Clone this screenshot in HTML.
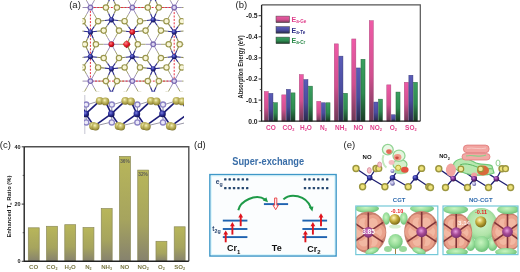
<!DOCTYPE html>
<html><head><meta charset="utf-8"><title>Figure</title>
<style>html,body{margin:0;padding:0;background:#fff;width:520px;height:272px;overflow:hidden}svg{display:block;filter:blur(0.3px)}</style>
</head><body><svg width="520" height="272" viewBox="0 0 520 272">
<defs>
 <linearGradient id="gPink" x1="0" y1="0" x2="0" y2="1">
  <stop offset="0" stop-color="#ee5aa6"/><stop offset="0.55" stop-color="#d0508f"/><stop offset="1" stop-color="#6a3a55"/>
 </linearGradient>
 <linearGradient id="gBlue" x1="0" y1="0" x2="0" y2="1">
  <stop offset="0" stop-color="#5a5cb8"/><stop offset="0.55" stop-color="#4a4c9e"/><stop offset="1" stop-color="#2a2a48"/>
 </linearGradient>
 <linearGradient id="gGreen" x1="0" y1="0" x2="0" y2="1">
  <stop offset="0" stop-color="#3aa060"/><stop offset="0.55" stop-color="#2e8a50"/><stop offset="1" stop-color="#1a3a25"/>
 </linearGradient>
 <linearGradient id="gOlive" x1="0" y1="0" x2="0" y2="1">
  <stop offset="0" stop-color="#b8b65a"/><stop offset="0.6" stop-color="#a6a45e"/><stop offset="1" stop-color="#86826e"/>
 </linearGradient>
 <radialGradient id="gTe" cx="0.45" cy="0.4" r="0.65" fx="0.4" fy="0.35">
  <stop offset="0" stop-color="#f6f2c0"/><stop offset="0.35" stop-color="#ccc470"/><stop offset="0.75" stop-color="#a09440"/><stop offset="1" stop-color="#6a6222"/>
 </radialGradient>
 <radialGradient id="gGe" cx="0.4" cy="0.35" r="0.7">
  <stop offset="0" stop-color="#f0f0ff"/><stop offset="0.5" stop-color="#9c98d0"/><stop offset="1" stop-color="#50508a"/>
 </radialGradient>
 <radialGradient id="gCr" cx="0.4" cy="0.35" r="0.7">
  <stop offset="0" stop-color="#7a80e0"/><stop offset="0.5" stop-color="#2a2c98"/><stop offset="1" stop-color="#101048"/>
 </radialGradient>
 <radialGradient id="gCrP" cx="0.4" cy="0.35" r="0.7">
  <stop offset="0" stop-color="#d080d8"/><stop offset="0.5" stop-color="#742a8c"/><stop offset="1" stop-color="#2a1040"/>
 </radialGradient>
 <radialGradient id="gRed" cx="0.4" cy="0.35" r="0.7">
  <stop offset="0" stop-color="#ff8080"/><stop offset="0.5" stop-color="#e01828"/><stop offset="1" stop-color="#901010"/>
 </radialGradient>
 <radialGradient id="gFlower" cx="0.5" cy="0.5" r="0.5">
  <stop offset="0" stop-color="#e89070"/><stop offset="0.7" stop-color="#eba080"/><stop offset="1" stop-color="#d08060"/>
 </radialGradient>
 <radialGradient id="gGreenBlob" cx="0.45" cy="0.4" r="0.6">
  <stop offset="0" stop-color="#c8f4c0"/><stop offset="0.6" stop-color="#96dc98"/><stop offset="1" stop-color="#6cc078"/>
 </radialGradient>
 <radialGradient id="gGreenLight" cx="0.5" cy="0.45" r="0.55">
  <stop offset="0" stop-color="#d4f4cc"/><stop offset="0.7" stop-color="#b0e4a8"/><stop offset="1" stop-color="#84cc88"/>
 </radialGradient>
 <radialGradient id="gGold" cx="0.4" cy="0.35" r="0.7">
  <stop offset="0" stop-color="#fff8c0"/><stop offset="0.45" stop-color="#c8b040"/><stop offset="1" stop-color="#706010"/>
 </radialGradient>
 <radialGradient id="gMag" cx="0.45" cy="0.4" r="0.6">
  <stop offset="0" stop-color="#e8a0e0"/><stop offset="0.5" stop-color="#a84c98"/><stop offset="1" stop-color="#7a3070"/>
 </radialGradient>
 <clipPath id="clipTop"><rect x="82.5" y="0" width="101" height="91.5"/></clipPath>
 <clipPath id="clipSide"><rect x="84" y="94" width="100" height="42"/></clipPath>
 <clipPath id="clipE1"><rect x="355.8" y="206" width="82" height="48.6"/></clipPath>
 <clipPath id="clipE2"><rect x="443" y="206" width="75" height="48.6"/></clipPath>
</defs>
<text x="69.2" y="7.7" font-size="9.5" font-family="Liberation Sans, Arial, sans-serif" fill="#222">(a)</text><g clip-path="url(#clipTop)"><line x1="69.5" y1="44.3" x2="73.3" y2="37.5" stroke="#9a8cb8" stroke-width="1.0"/><line x1="73.3" y1="37.5" x2="77.1" y2="30.6" stroke="#a0a070" stroke-width="1.0"/><line x1="69.5" y1="44.3" x2="73.3" y2="51.1" stroke="#9a8cb8" stroke-width="1.0"/><line x1="73.3" y1="51.1" x2="77.1" y2="58.0" stroke="#a0a070" stroke-width="1.0"/><line x1="69.5" y1="44.3" x2="77.2" y2="44.3" stroke="#9a8cb8" stroke-width="1.0"/><line x1="77.2" y1="44.3" x2="84.9" y2="44.3" stroke="#a0a070" stroke-width="1.0"/><line x1="90.4" y1="81.1" x2="86.6" y2="87.9" stroke="#9a8cb8" stroke-width="1.0"/><line x1="86.6" y1="87.9" x2="82.7" y2="94.8" stroke="#a0a070" stroke-width="1.0"/><line x1="90.4" y1="81.1" x2="94.2" y2="74.3" stroke="#9a8cb8" stroke-width="1.0"/><line x1="94.2" y1="74.3" x2="98.1" y2="67.4" stroke="#a0a070" stroke-width="1.0"/><line x1="90.4" y1="81.1" x2="82.7" y2="81.1" stroke="#9a8cb8" stroke-width="1.0"/><line x1="82.7" y1="81.1" x2="75.0" y2="81.1" stroke="#a0a070" stroke-width="1.0"/><line x1="90.4" y1="81.1" x2="86.6" y2="74.3" stroke="#9a8cb8" stroke-width="1.0"/><line x1="86.6" y1="74.3" x2="82.7" y2="67.4" stroke="#a0a070" stroke-width="1.0"/><line x1="90.4" y1="81.1" x2="94.2" y2="87.9" stroke="#9a8cb8" stroke-width="1.0"/><line x1="94.2" y1="87.9" x2="98.1" y2="94.8" stroke="#a0a070" stroke-width="1.0"/><line x1="90.4" y1="81.1" x2="98.1" y2="81.1" stroke="#9a8cb8" stroke-width="1.0"/><line x1="98.1" y1="81.1" x2="105.9" y2="81.1" stroke="#a0a070" stroke-width="1.0"/><line x1="90.4" y1="7.5" x2="86.6" y2="14.3" stroke="#9a8cb8" stroke-width="1.0"/><line x1="86.6" y1="14.3" x2="82.7" y2="21.2" stroke="#a0a070" stroke-width="1.0"/><line x1="90.4" y1="7.5" x2="94.2" y2="0.7" stroke="#9a8cb8" stroke-width="1.0"/><line x1="94.2" y1="0.7" x2="98.1" y2="-6.2" stroke="#a0a070" stroke-width="1.0"/><line x1="90.4" y1="7.5" x2="82.7" y2="7.5" stroke="#9a8cb8" stroke-width="1.0"/><line x1="82.7" y1="7.5" x2="75.0" y2="7.5" stroke="#a0a070" stroke-width="1.0"/><line x1="90.4" y1="7.5" x2="86.6" y2="0.7" stroke="#9a8cb8" stroke-width="1.0"/><line x1="86.6" y1="0.7" x2="82.7" y2="-6.2" stroke="#a0a070" stroke-width="1.0"/><line x1="90.4" y1="7.5" x2="94.2" y2="14.3" stroke="#9a8cb8" stroke-width="1.0"/><line x1="94.2" y1="14.3" x2="98.1" y2="21.2" stroke="#a0a070" stroke-width="1.0"/><line x1="90.4" y1="7.5" x2="98.1" y2="7.5" stroke="#9a8cb8" stroke-width="1.0"/><line x1="98.1" y1="7.5" x2="105.9" y2="7.5" stroke="#a0a070" stroke-width="1.0"/><line x1="111.4" y1="44.3" x2="107.5" y2="51.1" stroke="#9a8cb8" stroke-width="1.0"/><line x1="107.5" y1="51.1" x2="103.7" y2="58.0" stroke="#a0a070" stroke-width="1.0"/><line x1="111.4" y1="44.3" x2="115.2" y2="37.5" stroke="#9a8cb8" stroke-width="1.0"/><line x1="115.2" y1="37.5" x2="119.0" y2="30.6" stroke="#a0a070" stroke-width="1.0"/><line x1="111.4" y1="44.3" x2="103.6" y2="44.3" stroke="#9a8cb8" stroke-width="1.0"/><line x1="103.6" y1="44.3" x2="95.9" y2="44.3" stroke="#a0a070" stroke-width="1.0"/><line x1="111.4" y1="44.3" x2="107.5" y2="37.5" stroke="#9a8cb8" stroke-width="1.0"/><line x1="107.5" y1="37.5" x2="103.7" y2="30.6" stroke="#a0a070" stroke-width="1.0"/><line x1="111.4" y1="44.3" x2="115.2" y2="51.1" stroke="#9a8cb8" stroke-width="1.0"/><line x1="115.2" y1="51.1" x2="119.0" y2="58.0" stroke="#a0a070" stroke-width="1.0"/><line x1="111.4" y1="44.3" x2="119.1" y2="44.3" stroke="#9a8cb8" stroke-width="1.0"/><line x1="119.1" y1="44.3" x2="126.8" y2="44.3" stroke="#a0a070" stroke-width="1.0"/><line x1="132.3" y1="81.1" x2="128.5" y2="87.9" stroke="#9a8cb8" stroke-width="1.0"/><line x1="128.5" y1="87.9" x2="124.6" y2="94.8" stroke="#a0a070" stroke-width="1.0"/><line x1="132.3" y1="81.1" x2="136.1" y2="74.3" stroke="#9a8cb8" stroke-width="1.0"/><line x1="136.1" y1="74.3" x2="140.0" y2="67.4" stroke="#a0a070" stroke-width="1.0"/><line x1="132.3" y1="81.1" x2="124.6" y2="81.1" stroke="#9a8cb8" stroke-width="1.0"/><line x1="124.6" y1="81.1" x2="116.9" y2="81.1" stroke="#a0a070" stroke-width="1.0"/><line x1="132.3" y1="81.1" x2="128.5" y2="74.3" stroke="#9a8cb8" stroke-width="1.0"/><line x1="128.5" y1="74.3" x2="124.6" y2="67.4" stroke="#a0a070" stroke-width="1.0"/><line x1="132.3" y1="81.1" x2="136.1" y2="87.9" stroke="#9a8cb8" stroke-width="1.0"/><line x1="136.1" y1="87.9" x2="140.0" y2="94.8" stroke="#a0a070" stroke-width="1.0"/><line x1="132.3" y1="81.1" x2="140.0" y2="81.1" stroke="#9a8cb8" stroke-width="1.0"/><line x1="140.0" y1="81.1" x2="147.8" y2="81.1" stroke="#a0a070" stroke-width="1.0"/><line x1="132.3" y1="7.5" x2="128.5" y2="14.3" stroke="#9a8cb8" stroke-width="1.0"/><line x1="128.5" y1="14.3" x2="124.6" y2="21.2" stroke="#a0a070" stroke-width="1.0"/><line x1="132.3" y1="7.5" x2="136.1" y2="0.7" stroke="#9a8cb8" stroke-width="1.0"/><line x1="136.1" y1="0.7" x2="140.0" y2="-6.2" stroke="#a0a070" stroke-width="1.0"/><line x1="132.3" y1="7.5" x2="124.6" y2="7.5" stroke="#9a8cb8" stroke-width="1.0"/><line x1="124.6" y1="7.5" x2="116.9" y2="7.5" stroke="#a0a070" stroke-width="1.0"/><line x1="132.3" y1="7.5" x2="128.5" y2="0.7" stroke="#9a8cb8" stroke-width="1.0"/><line x1="128.5" y1="0.7" x2="124.6" y2="-6.2" stroke="#a0a070" stroke-width="1.0"/><line x1="132.3" y1="7.5" x2="136.1" y2="14.3" stroke="#9a8cb8" stroke-width="1.0"/><line x1="136.1" y1="14.3" x2="140.0" y2="21.2" stroke="#a0a070" stroke-width="1.0"/><line x1="132.3" y1="7.5" x2="140.0" y2="7.5" stroke="#9a8cb8" stroke-width="1.0"/><line x1="140.0" y1="7.5" x2="147.8" y2="7.5" stroke="#a0a070" stroke-width="1.0"/><line x1="153.2" y1="44.3" x2="149.4" y2="51.1" stroke="#9a8cb8" stroke-width="1.0"/><line x1="149.4" y1="51.1" x2="145.6" y2="58.0" stroke="#a0a070" stroke-width="1.0"/><line x1="153.2" y1="44.3" x2="157.1" y2="37.5" stroke="#9a8cb8" stroke-width="1.0"/><line x1="157.1" y1="37.5" x2="160.9" y2="30.6" stroke="#a0a070" stroke-width="1.0"/><line x1="153.2" y1="44.3" x2="145.5" y2="44.3" stroke="#9a8cb8" stroke-width="1.0"/><line x1="145.5" y1="44.3" x2="137.8" y2="44.3" stroke="#a0a070" stroke-width="1.0"/><line x1="153.2" y1="44.3" x2="149.4" y2="37.5" stroke="#9a8cb8" stroke-width="1.0"/><line x1="149.4" y1="37.5" x2="145.6" y2="30.6" stroke="#a0a070" stroke-width="1.0"/><line x1="153.2" y1="44.3" x2="157.1" y2="51.1" stroke="#9a8cb8" stroke-width="1.0"/><line x1="157.1" y1="51.1" x2="160.9" y2="58.0" stroke="#a0a070" stroke-width="1.0"/><line x1="153.2" y1="44.3" x2="161.0" y2="44.3" stroke="#9a8cb8" stroke-width="1.0"/><line x1="161.0" y1="44.3" x2="168.7" y2="44.3" stroke="#a0a070" stroke-width="1.0"/><line x1="174.2" y1="81.1" x2="170.4" y2="87.9" stroke="#9a8cb8" stroke-width="1.0"/><line x1="170.4" y1="87.9" x2="166.5" y2="94.8" stroke="#a0a070" stroke-width="1.0"/><line x1="174.2" y1="81.1" x2="178.0" y2="74.3" stroke="#9a8cb8" stroke-width="1.0"/><line x1="178.0" y1="74.3" x2="181.9" y2="67.4" stroke="#a0a070" stroke-width="1.0"/><line x1="174.2" y1="81.1" x2="166.5" y2="81.1" stroke="#9a8cb8" stroke-width="1.0"/><line x1="166.5" y1="81.1" x2="158.8" y2="81.1" stroke="#a0a070" stroke-width="1.0"/><line x1="174.2" y1="81.1" x2="170.4" y2="74.3" stroke="#9a8cb8" stroke-width="1.0"/><line x1="170.4" y1="74.3" x2="166.5" y2="67.4" stroke="#a0a070" stroke-width="1.0"/><line x1="174.2" y1="81.1" x2="178.0" y2="87.9" stroke="#9a8cb8" stroke-width="1.0"/><line x1="178.0" y1="87.9" x2="181.9" y2="94.8" stroke="#a0a070" stroke-width="1.0"/><line x1="174.2" y1="81.1" x2="181.9" y2="81.1" stroke="#9a8cb8" stroke-width="1.0"/><line x1="181.9" y1="81.1" x2="189.6" y2="81.1" stroke="#a0a070" stroke-width="1.0"/><line x1="174.2" y1="7.5" x2="170.4" y2="14.3" stroke="#9a8cb8" stroke-width="1.0"/><line x1="170.4" y1="14.3" x2="166.5" y2="21.2" stroke="#a0a070" stroke-width="1.0"/><line x1="174.2" y1="7.5" x2="178.0" y2="0.7" stroke="#9a8cb8" stroke-width="1.0"/><line x1="178.0" y1="0.7" x2="181.9" y2="-6.2" stroke="#a0a070" stroke-width="1.0"/><line x1="174.2" y1="7.5" x2="166.5" y2="7.5" stroke="#9a8cb8" stroke-width="1.0"/><line x1="166.5" y1="7.5" x2="158.8" y2="7.5" stroke="#a0a070" stroke-width="1.0"/><line x1="174.2" y1="7.5" x2="170.4" y2="0.7" stroke="#9a8cb8" stroke-width="1.0"/><line x1="170.4" y1="0.7" x2="166.5" y2="-6.2" stroke="#a0a070" stroke-width="1.0"/><line x1="174.2" y1="7.5" x2="181.9" y2="7.5" stroke="#9a8cb8" stroke-width="1.0"/><line x1="181.9" y1="7.5" x2="189.6" y2="7.5" stroke="#a0a070" stroke-width="1.0"/><line x1="174.2" y1="7.5" x2="178.0" y2="14.3" stroke="#9a8cb8" stroke-width="1.0"/><line x1="178.0" y1="14.3" x2="181.9" y2="21.2" stroke="#a0a070" stroke-width="1.0"/><line x1="195.1" y1="44.3" x2="191.3" y2="51.1" stroke="#9a8cb8" stroke-width="1.0"/><line x1="191.3" y1="51.1" x2="187.5" y2="58.0" stroke="#a0a070" stroke-width="1.0"/><line x1="195.1" y1="44.3" x2="187.4" y2="44.3" stroke="#9a8cb8" stroke-width="1.0"/><line x1="187.4" y1="44.3" x2="179.7" y2="44.3" stroke="#a0a070" stroke-width="1.0"/><line x1="195.1" y1="44.3" x2="191.3" y2="37.5" stroke="#9a8cb8" stroke-width="1.0"/><line x1="191.3" y1="37.5" x2="187.5" y2="30.6" stroke="#a0a070" stroke-width="1.0"/><line x1="69.5" y1="93.4" x2="76.1" y2="94.1" stroke="#2a2a8a" stroke-width="1.1"/><line x1="76.1" y1="94.1" x2="82.7" y2="94.8" stroke="#8a8a58" stroke-width="1.1"/><line x1="90.4" y1="105.6" x2="86.6" y2="100.2" stroke="#2a2a8a" stroke-width="1.1"/><line x1="86.6" y1="100.2" x2="82.7" y2="94.8" stroke="#8a8a58" stroke-width="1.1"/><line x1="69.5" y1="19.8" x2="73.3" y2="25.2" stroke="#2a2a8a" stroke-width="1.1"/><line x1="73.3" y1="25.2" x2="77.1" y2="30.6" stroke="#8a8a58" stroke-width="1.1"/><line x1="90.4" y1="32.0" x2="83.8" y2="31.3" stroke="#2a2a8a" stroke-width="1.1"/><line x1="83.8" y1="31.3" x2="77.1" y2="30.6" stroke="#8a8a58" stroke-width="1.1"/><line x1="69.5" y1="19.8" x2="76.1" y2="20.5" stroke="#2a2a8a" stroke-width="1.1"/><line x1="76.1" y1="20.5" x2="82.7" y2="21.2" stroke="#8a8a58" stroke-width="1.1"/><line x1="90.4" y1="32.0" x2="86.6" y2="26.6" stroke="#2a2a8a" stroke-width="1.1"/><line x1="86.6" y1="26.6" x2="82.7" y2="21.2" stroke="#8a8a58" stroke-width="1.1"/><line x1="90.4" y1="56.6" x2="94.2" y2="62.0" stroke="#2a2a8a" stroke-width="1.1"/><line x1="94.2" y1="62.0" x2="98.1" y2="67.4" stroke="#8a8a58" stroke-width="1.1"/><line x1="111.4" y1="68.8" x2="104.7" y2="68.1" stroke="#2a2a8a" stroke-width="1.1"/><line x1="104.7" y1="68.1" x2="98.1" y2="67.4" stroke="#8a8a58" stroke-width="1.1"/><line x1="90.4" y1="56.6" x2="97.0" y2="57.3" stroke="#2a2a8a" stroke-width="1.1"/><line x1="97.0" y1="57.3" x2="103.7" y2="58.0" stroke="#8a8a58" stroke-width="1.1"/><line x1="111.4" y1="68.8" x2="107.5" y2="63.4" stroke="#2a2a8a" stroke-width="1.1"/><line x1="107.5" y1="63.4" x2="103.7" y2="58.0" stroke="#8a8a58" stroke-width="1.1"/><line x1="69.5" y1="68.8" x2="72.2" y2="75.0" stroke="#2a2a8a" stroke-width="1.1"/><line x1="72.2" y1="75.0" x2="75.0" y2="81.1" stroke="#8a8a58" stroke-width="1.1"/><line x1="69.5" y1="93.4" x2="72.2" y2="87.2" stroke="#2a2a8a" stroke-width="1.1"/><line x1="72.2" y1="87.2" x2="75.0" y2="81.1" stroke="#8a8a58" stroke-width="1.1"/><line x1="69.5" y1="68.8" x2="76.1" y2="68.1" stroke="#2a2a8a" stroke-width="1.1"/><line x1="76.1" y1="68.1" x2="82.7" y2="67.4" stroke="#8a8a58" stroke-width="1.1"/><line x1="90.4" y1="56.6" x2="86.6" y2="62.0" stroke="#2a2a8a" stroke-width="1.1"/><line x1="86.6" y1="62.0" x2="82.7" y2="67.4" stroke="#8a8a58" stroke-width="1.1"/><line x1="69.5" y1="68.8" x2="73.3" y2="63.4" stroke="#2a2a8a" stroke-width="1.1"/><line x1="73.3" y1="63.4" x2="77.1" y2="58.0" stroke="#8a8a58" stroke-width="1.1"/><line x1="90.4" y1="56.6" x2="83.8" y2="57.3" stroke="#2a2a8a" stroke-width="1.1"/><line x1="83.8" y1="57.3" x2="77.1" y2="58.0" stroke="#8a8a58" stroke-width="1.1"/><line x1="111.4" y1="93.4" x2="115.2" y2="98.8" stroke="#2a2a8a" stroke-width="1.1"/><line x1="115.2" y1="98.8" x2="119.0" y2="104.2" stroke="#8a8a58" stroke-width="1.1"/><line x1="111.4" y1="93.4" x2="118.0" y2="94.1" stroke="#2a2a8a" stroke-width="1.1"/><line x1="118.0" y1="94.1" x2="124.6" y2="94.8" stroke="#8a8a58" stroke-width="1.1"/><line x1="132.3" y1="105.6" x2="128.5" y2="100.2" stroke="#2a2a8a" stroke-width="1.1"/><line x1="128.5" y1="100.2" x2="124.6" y2="94.8" stroke="#8a8a58" stroke-width="1.1"/><line x1="111.4" y1="93.4" x2="107.5" y2="98.8" stroke="#2a2a8a" stroke-width="1.1"/><line x1="107.5" y1="98.8" x2="103.7" y2="104.2" stroke="#8a8a58" stroke-width="1.1"/><line x1="90.4" y1="105.6" x2="94.2" y2="100.2" stroke="#2a2a8a" stroke-width="1.1"/><line x1="94.2" y1="100.2" x2="98.1" y2="94.8" stroke="#8a8a58" stroke-width="1.1"/><line x1="111.4" y1="93.4" x2="104.7" y2="94.1" stroke="#2a2a8a" stroke-width="1.1"/><line x1="104.7" y1="94.1" x2="98.1" y2="94.8" stroke="#8a8a58" stroke-width="1.1"/><line x1="90.4" y1="-17.0" x2="94.2" y2="-11.6" stroke="#2a2a8a" stroke-width="1.1"/><line x1="94.2" y1="-11.6" x2="98.1" y2="-6.2" stroke="#8a8a58" stroke-width="1.1"/><line x1="111.4" y1="-4.8" x2="104.7" y2="-5.5" stroke="#2a2a8a" stroke-width="1.1"/><line x1="104.7" y1="-5.5" x2="98.1" y2="-6.2" stroke="#8a8a58" stroke-width="1.1"/><line x1="111.4" y1="-4.8" x2="107.5" y2="-10.2" stroke="#2a2a8a" stroke-width="1.1"/><line x1="107.5" y1="-10.2" x2="103.7" y2="-15.6" stroke="#8a8a58" stroke-width="1.1"/><line x1="69.5" y1="-4.8" x2="72.2" y2="1.4" stroke="#2a2a8a" stroke-width="1.1"/><line x1="72.2" y1="1.4" x2="75.0" y2="7.5" stroke="#8a8a58" stroke-width="1.1"/><line x1="69.5" y1="19.8" x2="72.2" y2="13.6" stroke="#2a2a8a" stroke-width="1.1"/><line x1="72.2" y1="13.6" x2="75.0" y2="7.5" stroke="#8a8a58" stroke-width="1.1"/><line x1="69.5" y1="-4.8" x2="76.1" y2="-5.5" stroke="#2a2a8a" stroke-width="1.1"/><line x1="76.1" y1="-5.5" x2="82.7" y2="-6.2" stroke="#8a8a58" stroke-width="1.1"/><line x1="90.4" y1="-17.0" x2="86.6" y2="-11.6" stroke="#2a2a8a" stroke-width="1.1"/><line x1="86.6" y1="-11.6" x2="82.7" y2="-6.2" stroke="#8a8a58" stroke-width="1.1"/><line x1="111.4" y1="19.8" x2="115.2" y2="25.2" stroke="#2a2a8a" stroke-width="1.1"/><line x1="115.2" y1="25.2" x2="119.0" y2="30.6" stroke="#8a8a58" stroke-width="1.1"/><line x1="132.3" y1="32.0" x2="125.7" y2="31.3" stroke="#2a2a8a" stroke-width="1.1"/><line x1="125.7" y1="31.3" x2="119.0" y2="30.6" stroke="#8a8a58" stroke-width="1.1"/><line x1="111.4" y1="19.8" x2="118.0" y2="20.5" stroke="#2a2a8a" stroke-width="1.1"/><line x1="118.0" y1="20.5" x2="124.6" y2="21.2" stroke="#8a8a58" stroke-width="1.1"/><line x1="132.3" y1="32.0" x2="128.5" y2="26.6" stroke="#2a2a8a" stroke-width="1.1"/><line x1="128.5" y1="26.6" x2="124.6" y2="21.2" stroke="#8a8a58" stroke-width="1.1"/><line x1="90.4" y1="32.0" x2="87.7" y2="38.2" stroke="#2a2a8a" stroke-width="1.1"/><line x1="87.7" y1="38.2" x2="84.9" y2="44.3" stroke="#8a8a58" stroke-width="1.1"/><line x1="90.4" y1="56.6" x2="87.7" y2="50.4" stroke="#2a2a8a" stroke-width="1.1"/><line x1="87.7" y1="50.4" x2="84.9" y2="44.3" stroke="#8a8a58" stroke-width="1.1"/><line x1="90.4" y1="32.0" x2="93.2" y2="38.2" stroke="#2a2a8a" stroke-width="1.1"/><line x1="93.2" y1="38.2" x2="95.9" y2="44.3" stroke="#8a8a58" stroke-width="1.1"/><line x1="90.4" y1="56.6" x2="93.2" y2="50.4" stroke="#2a2a8a" stroke-width="1.1"/><line x1="93.2" y1="50.4" x2="95.9" y2="44.3" stroke="#8a8a58" stroke-width="1.1"/><line x1="90.4" y1="32.0" x2="97.0" y2="31.3" stroke="#2a2a8a" stroke-width="1.1"/><line x1="97.0" y1="31.3" x2="103.7" y2="30.6" stroke="#8a8a58" stroke-width="1.1"/><line x1="111.4" y1="19.8" x2="107.5" y2="25.2" stroke="#2a2a8a" stroke-width="1.1"/><line x1="107.5" y1="25.2" x2="103.7" y2="30.6" stroke="#8a8a58" stroke-width="1.1"/><line x1="90.4" y1="32.0" x2="94.2" y2="26.6" stroke="#2a2a8a" stroke-width="1.1"/><line x1="94.2" y1="26.6" x2="98.1" y2="21.2" stroke="#8a8a58" stroke-width="1.1"/><line x1="111.4" y1="19.8" x2="104.7" y2="20.5" stroke="#2a2a8a" stroke-width="1.1"/><line x1="104.7" y1="20.5" x2="98.1" y2="21.2" stroke="#8a8a58" stroke-width="1.1"/><line x1="132.3" y1="56.6" x2="136.1" y2="62.0" stroke="#2a2a8a" stroke-width="1.1"/><line x1="136.1" y1="62.0" x2="140.0" y2="67.4" stroke="#8a8a58" stroke-width="1.1"/><line x1="153.2" y1="68.8" x2="146.6" y2="68.1" stroke="#2a2a8a" stroke-width="1.1"/><line x1="146.6" y1="68.1" x2="140.0" y2="67.4" stroke="#8a8a58" stroke-width="1.1"/><line x1="132.3" y1="56.6" x2="138.9" y2="57.3" stroke="#2a2a8a" stroke-width="1.1"/><line x1="138.9" y1="57.3" x2="145.6" y2="58.0" stroke="#8a8a58" stroke-width="1.1"/><line x1="153.2" y1="68.8" x2="149.4" y2="63.4" stroke="#2a2a8a" stroke-width="1.1"/><line x1="149.4" y1="63.4" x2="145.6" y2="58.0" stroke="#8a8a58" stroke-width="1.1"/><line x1="111.4" y1="68.8" x2="108.6" y2="75.0" stroke="#2a2a8a" stroke-width="1.1"/><line x1="108.6" y1="75.0" x2="105.9" y2="81.1" stroke="#8a8a58" stroke-width="1.1"/><line x1="111.4" y1="93.4" x2="108.6" y2="87.2" stroke="#2a2a8a" stroke-width="1.1"/><line x1="108.6" y1="87.2" x2="105.9" y2="81.1" stroke="#8a8a58" stroke-width="1.1"/><line x1="111.4" y1="68.8" x2="114.1" y2="75.0" stroke="#2a2a8a" stroke-width="1.1"/><line x1="114.1" y1="75.0" x2="116.9" y2="81.1" stroke="#8a8a58" stroke-width="1.1"/><line x1="111.4" y1="93.4" x2="114.1" y2="87.2" stroke="#2a2a8a" stroke-width="1.1"/><line x1="114.1" y1="87.2" x2="116.9" y2="81.1" stroke="#8a8a58" stroke-width="1.1"/><line x1="111.4" y1="68.8" x2="118.0" y2="68.1" stroke="#2a2a8a" stroke-width="1.1"/><line x1="118.0" y1="68.1" x2="124.6" y2="67.4" stroke="#8a8a58" stroke-width="1.1"/><line x1="132.3" y1="56.6" x2="128.5" y2="62.0" stroke="#2a2a8a" stroke-width="1.1"/><line x1="128.5" y1="62.0" x2="124.6" y2="67.4" stroke="#8a8a58" stroke-width="1.1"/><line x1="111.4" y1="68.8" x2="115.2" y2="63.4" stroke="#2a2a8a" stroke-width="1.1"/><line x1="115.2" y1="63.4" x2="119.0" y2="58.0" stroke="#8a8a58" stroke-width="1.1"/><line x1="132.3" y1="56.6" x2="125.7" y2="57.3" stroke="#2a2a8a" stroke-width="1.1"/><line x1="125.7" y1="57.3" x2="119.0" y2="58.0" stroke="#8a8a58" stroke-width="1.1"/><line x1="153.2" y1="93.4" x2="157.1" y2="98.8" stroke="#2a2a8a" stroke-width="1.1"/><line x1="157.1" y1="98.8" x2="160.9" y2="104.2" stroke="#8a8a58" stroke-width="1.1"/><line x1="153.2" y1="93.4" x2="159.9" y2="94.1" stroke="#2a2a8a" stroke-width="1.1"/><line x1="159.9" y1="94.1" x2="166.5" y2="94.8" stroke="#8a8a58" stroke-width="1.1"/><line x1="174.2" y1="105.6" x2="170.4" y2="100.2" stroke="#2a2a8a" stroke-width="1.1"/><line x1="170.4" y1="100.2" x2="166.5" y2="94.8" stroke="#8a8a58" stroke-width="1.1"/><line x1="153.2" y1="93.4" x2="149.4" y2="98.8" stroke="#2a2a8a" stroke-width="1.1"/><line x1="149.4" y1="98.8" x2="145.6" y2="104.2" stroke="#8a8a58" stroke-width="1.1"/><line x1="132.3" y1="105.6" x2="136.1" y2="100.2" stroke="#2a2a8a" stroke-width="1.1"/><line x1="136.1" y1="100.2" x2="140.0" y2="94.8" stroke="#8a8a58" stroke-width="1.1"/><line x1="153.2" y1="93.4" x2="146.6" y2="94.1" stroke="#2a2a8a" stroke-width="1.1"/><line x1="146.6" y1="94.1" x2="140.0" y2="94.8" stroke="#8a8a58" stroke-width="1.1"/><line x1="132.3" y1="-17.0" x2="136.1" y2="-11.6" stroke="#2a2a8a" stroke-width="1.1"/><line x1="136.1" y1="-11.6" x2="140.0" y2="-6.2" stroke="#8a8a58" stroke-width="1.1"/><line x1="153.2" y1="-4.8" x2="146.6" y2="-5.5" stroke="#2a2a8a" stroke-width="1.1"/><line x1="146.6" y1="-5.5" x2="140.0" y2="-6.2" stroke="#8a8a58" stroke-width="1.1"/><line x1="153.2" y1="-4.8" x2="149.4" y2="-10.2" stroke="#2a2a8a" stroke-width="1.1"/><line x1="149.4" y1="-10.2" x2="145.6" y2="-15.6" stroke="#8a8a58" stroke-width="1.1"/><line x1="111.4" y1="-4.8" x2="108.6" y2="1.4" stroke="#2a2a8a" stroke-width="1.1"/><line x1="108.6" y1="1.4" x2="105.9" y2="7.5" stroke="#8a8a58" stroke-width="1.1"/><line x1="111.4" y1="19.8" x2="108.6" y2="13.6" stroke="#2a2a8a" stroke-width="1.1"/><line x1="108.6" y1="13.6" x2="105.9" y2="7.5" stroke="#8a8a58" stroke-width="1.1"/><line x1="111.4" y1="-4.8" x2="114.1" y2="1.4" stroke="#2a2a8a" stroke-width="1.1"/><line x1="114.1" y1="1.4" x2="116.9" y2="7.5" stroke="#8a8a58" stroke-width="1.1"/><line x1="111.4" y1="19.8" x2="114.1" y2="13.6" stroke="#2a2a8a" stroke-width="1.1"/><line x1="114.1" y1="13.6" x2="116.9" y2="7.5" stroke="#8a8a58" stroke-width="1.1"/><line x1="111.4" y1="-4.8" x2="118.0" y2="-5.5" stroke="#2a2a8a" stroke-width="1.1"/><line x1="118.0" y1="-5.5" x2="124.6" y2="-6.2" stroke="#8a8a58" stroke-width="1.1"/><line x1="132.3" y1="-17.0" x2="128.5" y2="-11.6" stroke="#2a2a8a" stroke-width="1.1"/><line x1="128.5" y1="-11.6" x2="124.6" y2="-6.2" stroke="#8a8a58" stroke-width="1.1"/><line x1="111.4" y1="-4.8" x2="115.2" y2="-10.2" stroke="#2a2a8a" stroke-width="1.1"/><line x1="115.2" y1="-10.2" x2="119.0" y2="-15.6" stroke="#8a8a58" stroke-width="1.1"/><line x1="153.2" y1="19.8" x2="157.1" y2="25.2" stroke="#2a2a8a" stroke-width="1.1"/><line x1="157.1" y1="25.2" x2="160.9" y2="30.6" stroke="#8a8a58" stroke-width="1.1"/><line x1="174.2" y1="32.0" x2="167.6" y2="31.3" stroke="#2a2a8a" stroke-width="1.1"/><line x1="167.6" y1="31.3" x2="160.9" y2="30.6" stroke="#8a8a58" stroke-width="1.1"/><line x1="153.2" y1="19.8" x2="159.9" y2="20.5" stroke="#2a2a8a" stroke-width="1.1"/><line x1="159.9" y1="20.5" x2="166.5" y2="21.2" stroke="#8a8a58" stroke-width="1.1"/><line x1="174.2" y1="32.0" x2="170.4" y2="26.6" stroke="#2a2a8a" stroke-width="1.1"/><line x1="170.4" y1="26.6" x2="166.5" y2="21.2" stroke="#8a8a58" stroke-width="1.1"/><line x1="132.3" y1="32.0" x2="129.6" y2="38.2" stroke="#2a2a8a" stroke-width="1.1"/><line x1="129.6" y1="38.2" x2="126.8" y2="44.3" stroke="#8a8a58" stroke-width="1.1"/><line x1="132.3" y1="56.6" x2="129.6" y2="50.4" stroke="#2a2a8a" stroke-width="1.1"/><line x1="129.6" y1="50.4" x2="126.8" y2="44.3" stroke="#8a8a58" stroke-width="1.1"/><line x1="132.3" y1="32.0" x2="135.1" y2="38.2" stroke="#2a2a8a" stroke-width="1.1"/><line x1="135.1" y1="38.2" x2="137.8" y2="44.3" stroke="#8a8a58" stroke-width="1.1"/><line x1="132.3" y1="56.6" x2="135.1" y2="50.4" stroke="#2a2a8a" stroke-width="1.1"/><line x1="135.1" y1="50.4" x2="137.8" y2="44.3" stroke="#8a8a58" stroke-width="1.1"/><line x1="132.3" y1="32.0" x2="138.9" y2="31.3" stroke="#2a2a8a" stroke-width="1.1"/><line x1="138.9" y1="31.3" x2="145.6" y2="30.6" stroke="#8a8a58" stroke-width="1.1"/><line x1="153.2" y1="19.8" x2="149.4" y2="25.2" stroke="#2a2a8a" stroke-width="1.1"/><line x1="149.4" y1="25.2" x2="145.6" y2="30.6" stroke="#8a8a58" stroke-width="1.1"/><line x1="132.3" y1="32.0" x2="136.1" y2="26.6" stroke="#2a2a8a" stroke-width="1.1"/><line x1="136.1" y1="26.6" x2="140.0" y2="21.2" stroke="#8a8a58" stroke-width="1.1"/><line x1="153.2" y1="19.8" x2="146.6" y2="20.5" stroke="#2a2a8a" stroke-width="1.1"/><line x1="146.6" y1="20.5" x2="140.0" y2="21.2" stroke="#8a8a58" stroke-width="1.1"/><line x1="174.2" y1="56.6" x2="178.0" y2="62.0" stroke="#2a2a8a" stroke-width="1.1"/><line x1="178.0" y1="62.0" x2="181.9" y2="67.4" stroke="#8a8a58" stroke-width="1.1"/><line x1="195.1" y1="68.8" x2="188.5" y2="68.1" stroke="#2a2a8a" stroke-width="1.1"/><line x1="188.5" y1="68.1" x2="181.9" y2="67.4" stroke="#8a8a58" stroke-width="1.1"/><line x1="174.2" y1="56.6" x2="180.8" y2="57.3" stroke="#2a2a8a" stroke-width="1.1"/><line x1="180.8" y1="57.3" x2="187.5" y2="58.0" stroke="#8a8a58" stroke-width="1.1"/><line x1="195.1" y1="68.8" x2="191.3" y2="63.4" stroke="#2a2a8a" stroke-width="1.1"/><line x1="191.3" y1="63.4" x2="187.5" y2="58.0" stroke="#8a8a58" stroke-width="1.1"/><line x1="153.2" y1="68.8" x2="150.5" y2="75.0" stroke="#2a2a8a" stroke-width="1.1"/><line x1="150.5" y1="75.0" x2="147.8" y2="81.1" stroke="#8a8a58" stroke-width="1.1"/><line x1="153.2" y1="93.4" x2="150.5" y2="87.2" stroke="#2a2a8a" stroke-width="1.1"/><line x1="150.5" y1="87.2" x2="147.8" y2="81.1" stroke="#8a8a58" stroke-width="1.1"/><line x1="153.2" y1="68.8" x2="156.0" y2="75.0" stroke="#2a2a8a" stroke-width="1.1"/><line x1="156.0" y1="75.0" x2="158.8" y2="81.1" stroke="#8a8a58" stroke-width="1.1"/><line x1="153.2" y1="93.4" x2="156.0" y2="87.2" stroke="#2a2a8a" stroke-width="1.1"/><line x1="156.0" y1="87.2" x2="158.8" y2="81.1" stroke="#8a8a58" stroke-width="1.1"/><line x1="153.2" y1="68.8" x2="159.9" y2="68.1" stroke="#2a2a8a" stroke-width="1.1"/><line x1="159.9" y1="68.1" x2="166.5" y2="67.4" stroke="#8a8a58" stroke-width="1.1"/><line x1="174.2" y1="56.6" x2="170.4" y2="62.0" stroke="#2a2a8a" stroke-width="1.1"/><line x1="170.4" y1="62.0" x2="166.5" y2="67.4" stroke="#8a8a58" stroke-width="1.1"/><line x1="153.2" y1="68.8" x2="157.1" y2="63.4" stroke="#2a2a8a" stroke-width="1.1"/><line x1="157.1" y1="63.4" x2="160.9" y2="58.0" stroke="#8a8a58" stroke-width="1.1"/><line x1="174.2" y1="56.6" x2="167.6" y2="57.3" stroke="#2a2a8a" stroke-width="1.1"/><line x1="167.6" y1="57.3" x2="160.9" y2="58.0" stroke="#8a8a58" stroke-width="1.1"/><line x1="174.2" y1="105.6" x2="178.0" y2="100.2" stroke="#2a2a8a" stroke-width="1.1"/><line x1="178.0" y1="100.2" x2="181.9" y2="94.8" stroke="#8a8a58" stroke-width="1.1"/><line x1="195.2" y1="93.4" x2="188.5" y2="94.1" stroke="#2a2a8a" stroke-width="1.1"/><line x1="188.5" y1="94.1" x2="181.9" y2="94.8" stroke="#8a8a58" stroke-width="1.1"/><line x1="174.2" y1="-17.0" x2="178.0" y2="-11.6" stroke="#2a2a8a" stroke-width="1.1"/><line x1="178.0" y1="-11.6" x2="181.9" y2="-6.2" stroke="#8a8a58" stroke-width="1.1"/><line x1="195.2" y1="-4.8" x2="188.5" y2="-5.5" stroke="#2a2a8a" stroke-width="1.1"/><line x1="188.5" y1="-5.5" x2="181.9" y2="-6.2" stroke="#8a8a58" stroke-width="1.1"/><line x1="153.2" y1="-4.8" x2="150.5" y2="1.4" stroke="#2a2a8a" stroke-width="1.1"/><line x1="150.5" y1="1.4" x2="147.8" y2="7.5" stroke="#8a8a58" stroke-width="1.1"/><line x1="153.2" y1="19.8" x2="150.5" y2="13.6" stroke="#2a2a8a" stroke-width="1.1"/><line x1="150.5" y1="13.6" x2="147.8" y2="7.5" stroke="#8a8a58" stroke-width="1.1"/><line x1="153.2" y1="-4.8" x2="156.0" y2="1.4" stroke="#2a2a8a" stroke-width="1.1"/><line x1="156.0" y1="1.4" x2="158.8" y2="7.5" stroke="#8a8a58" stroke-width="1.1"/><line x1="153.2" y1="19.8" x2="156.0" y2="13.6" stroke="#2a2a8a" stroke-width="1.1"/><line x1="156.0" y1="13.6" x2="158.8" y2="7.5" stroke="#8a8a58" stroke-width="1.1"/><line x1="153.2" y1="-4.8" x2="159.9" y2="-5.5" stroke="#2a2a8a" stroke-width="1.1"/><line x1="159.9" y1="-5.5" x2="166.5" y2="-6.2" stroke="#8a8a58" stroke-width="1.1"/><line x1="174.2" y1="-17.0" x2="170.4" y2="-11.6" stroke="#2a2a8a" stroke-width="1.1"/><line x1="170.4" y1="-11.6" x2="166.5" y2="-6.2" stroke="#8a8a58" stroke-width="1.1"/><line x1="153.2" y1="-4.8" x2="157.1" y2="-10.2" stroke="#2a2a8a" stroke-width="1.1"/><line x1="157.1" y1="-10.2" x2="160.9" y2="-15.6" stroke="#8a8a58" stroke-width="1.1"/><line x1="195.1" y1="19.8" x2="192.4" y2="13.6" stroke="#2a2a8a" stroke-width="1.1"/><line x1="192.4" y1="13.6" x2="189.6" y2="7.5" stroke="#8a8a58" stroke-width="1.1"/><line x1="195.2" y1="-4.8" x2="192.4" y2="1.4" stroke="#2a2a8a" stroke-width="1.1"/><line x1="192.4" y1="1.4" x2="189.6" y2="7.5" stroke="#8a8a58" stroke-width="1.1"/><line x1="174.2" y1="32.0" x2="171.4" y2="38.2" stroke="#2a2a8a" stroke-width="1.1"/><line x1="171.4" y1="38.2" x2="168.7" y2="44.3" stroke="#8a8a58" stroke-width="1.1"/><line x1="174.2" y1="56.6" x2="171.4" y2="50.4" stroke="#2a2a8a" stroke-width="1.1"/><line x1="171.4" y1="50.4" x2="168.7" y2="44.3" stroke="#8a8a58" stroke-width="1.1"/><line x1="174.2" y1="32.0" x2="176.9" y2="38.2" stroke="#2a2a8a" stroke-width="1.1"/><line x1="176.9" y1="38.2" x2="179.7" y2="44.3" stroke="#8a8a58" stroke-width="1.1"/><line x1="174.2" y1="56.6" x2="176.9" y2="50.4" stroke="#2a2a8a" stroke-width="1.1"/><line x1="176.9" y1="50.4" x2="179.7" y2="44.3" stroke="#8a8a58" stroke-width="1.1"/><line x1="174.2" y1="32.0" x2="180.8" y2="31.3" stroke="#2a2a8a" stroke-width="1.1"/><line x1="180.8" y1="31.3" x2="187.5" y2="30.6" stroke="#8a8a58" stroke-width="1.1"/><line x1="195.1" y1="19.8" x2="191.3" y2="25.2" stroke="#2a2a8a" stroke-width="1.1"/><line x1="191.3" y1="25.2" x2="187.5" y2="30.6" stroke="#8a8a58" stroke-width="1.1"/><line x1="174.2" y1="32.0" x2="178.0" y2="26.6" stroke="#2a2a8a" stroke-width="1.1"/><line x1="178.0" y1="26.6" x2="181.9" y2="21.2" stroke="#8a8a58" stroke-width="1.1"/><line x1="195.1" y1="19.8" x2="188.5" y2="20.5" stroke="#2a2a8a" stroke-width="1.1"/><line x1="188.5" y1="20.5" x2="181.9" y2="21.2" stroke="#8a8a58" stroke-width="1.1"/><line x1="195.1" y1="68.8" x2="192.4" y2="75.0" stroke="#2a2a8a" stroke-width="1.1"/><line x1="192.4" y1="75.0" x2="189.6" y2="81.1" stroke="#8a8a58" stroke-width="1.1"/><line x1="195.2" y1="93.4" x2="192.4" y2="87.2" stroke="#2a2a8a" stroke-width="1.1"/><line x1="192.4" y1="87.2" x2="189.6" y2="81.1" stroke="#8a8a58" stroke-width="1.1"/><rect x="90.4" y="7.5" width="83.8" height="73.6" fill="none" stroke="#e83040" stroke-width="1" stroke-dasharray="2 1.4"/><circle cx="82.7" cy="94.8" r="2.7" fill="#f8f6d8" stroke="#9a964c" stroke-width="1.15"/><circle cx="77.1" cy="30.6" r="2.7" fill="#f8f6d8" stroke="#9a964c" stroke-width="1.15"/><circle cx="82.7" cy="21.2" r="2.7" fill="#f8f6d8" stroke="#9a964c" stroke-width="1.15"/><circle cx="98.1" cy="67.4" r="2.7" fill="#f8f6d8" stroke="#9a964c" stroke-width="1.15"/><circle cx="103.7" cy="58.0" r="2.7" fill="#f8f6d8" stroke="#9a964c" stroke-width="1.15"/><circle cx="75.0" cy="81.1" r="2.7" fill="#f8f6d8" stroke="#9a964c" stroke-width="1.15"/><circle cx="82.7" cy="67.4" r="2.7" fill="#f8f6d8" stroke="#9a964c" stroke-width="1.15"/><circle cx="77.1" cy="58.0" r="2.7" fill="#f8f6d8" stroke="#9a964c" stroke-width="1.15"/><circle cx="124.6" cy="94.8" r="2.7" fill="#f8f6d8" stroke="#9a964c" stroke-width="1.15"/><circle cx="98.1" cy="94.8" r="2.7" fill="#f8f6d8" stroke="#9a964c" stroke-width="1.15"/><circle cx="98.1" cy="-6.2" r="2.7" fill="#f8f6d8" stroke="#9a964c" stroke-width="1.15"/><circle cx="75.0" cy="7.5" r="2.7" fill="#f8f6d8" stroke="#9a964c" stroke-width="1.15"/><circle cx="82.7" cy="-6.2" r="2.7" fill="#f8f6d8" stroke="#9a964c" stroke-width="1.15"/><circle cx="119.0" cy="30.6" r="2.7" fill="#f8f6d8" stroke="#9a964c" stroke-width="1.15"/><circle cx="124.6" cy="21.2" r="2.7" fill="#f8f6d8" stroke="#9a964c" stroke-width="1.15"/><circle cx="84.9" cy="44.3" r="2.7" fill="#f8f6d8" stroke="#9a964c" stroke-width="1.15"/><circle cx="95.9" cy="44.3" r="2.7" fill="#f8f6d8" stroke="#9a964c" stroke-width="1.15"/><circle cx="103.7" cy="30.6" r="2.7" fill="#f8f6d8" stroke="#9a964c" stroke-width="1.15"/><circle cx="98.1" cy="21.2" r="2.7" fill="#f8f6d8" stroke="#9a964c" stroke-width="1.15"/><circle cx="140.0" cy="67.4" r="2.7" fill="#f8f6d8" stroke="#9a964c" stroke-width="1.15"/><circle cx="145.6" cy="58.0" r="2.7" fill="#f8f6d8" stroke="#9a964c" stroke-width="1.15"/><circle cx="105.9" cy="81.1" r="2.7" fill="#f8f6d8" stroke="#9a964c" stroke-width="1.15"/><circle cx="116.9" cy="81.1" r="2.7" fill="#f8f6d8" stroke="#9a964c" stroke-width="1.15"/><circle cx="124.6" cy="67.4" r="2.7" fill="#f8f6d8" stroke="#9a964c" stroke-width="1.15"/><circle cx="119.0" cy="58.0" r="2.7" fill="#f8f6d8" stroke="#9a964c" stroke-width="1.15"/><circle cx="166.5" cy="94.8" r="2.7" fill="#f8f6d8" stroke="#9a964c" stroke-width="1.15"/><circle cx="140.0" cy="94.8" r="2.7" fill="#f8f6d8" stroke="#9a964c" stroke-width="1.15"/><circle cx="140.0" cy="-6.2" r="2.7" fill="#f8f6d8" stroke="#9a964c" stroke-width="1.15"/><circle cx="105.9" cy="7.5" r="2.7" fill="#f8f6d8" stroke="#9a964c" stroke-width="1.15"/><circle cx="116.9" cy="7.5" r="2.7" fill="#f8f6d8" stroke="#9a964c" stroke-width="1.15"/><circle cx="124.6" cy="-6.2" r="2.7" fill="#f8f6d8" stroke="#9a964c" stroke-width="1.15"/><circle cx="160.9" cy="30.6" r="2.7" fill="#f8f6d8" stroke="#9a964c" stroke-width="1.15"/><circle cx="166.5" cy="21.2" r="2.7" fill="#f8f6d8" stroke="#9a964c" stroke-width="1.15"/><circle cx="126.8" cy="44.3" r="2.7" fill="#f8f6d8" stroke="#9a964c" stroke-width="1.15"/><circle cx="137.8" cy="44.3" r="2.7" fill="#f8f6d8" stroke="#9a964c" stroke-width="1.15"/><circle cx="145.6" cy="30.6" r="2.7" fill="#f8f6d8" stroke="#9a964c" stroke-width="1.15"/><circle cx="140.0" cy="21.2" r="2.7" fill="#f8f6d8" stroke="#9a964c" stroke-width="1.15"/><circle cx="181.9" cy="67.4" r="2.7" fill="#f8f6d8" stroke="#9a964c" stroke-width="1.15"/><circle cx="187.5" cy="58.0" r="2.7" fill="#f8f6d8" stroke="#9a964c" stroke-width="1.15"/><circle cx="147.8" cy="81.1" r="2.7" fill="#f8f6d8" stroke="#9a964c" stroke-width="1.15"/><circle cx="158.8" cy="81.1" r="2.7" fill="#f8f6d8" stroke="#9a964c" stroke-width="1.15"/><circle cx="166.5" cy="67.4" r="2.7" fill="#f8f6d8" stroke="#9a964c" stroke-width="1.15"/><circle cx="160.9" cy="58.0" r="2.7" fill="#f8f6d8" stroke="#9a964c" stroke-width="1.15"/><circle cx="181.9" cy="94.8" r="2.7" fill="#f8f6d8" stroke="#9a964c" stroke-width="1.15"/><circle cx="181.9" cy="-6.2" r="2.7" fill="#f8f6d8" stroke="#9a964c" stroke-width="1.15"/><circle cx="147.8" cy="7.5" r="2.7" fill="#f8f6d8" stroke="#9a964c" stroke-width="1.15"/><circle cx="158.8" cy="7.5" r="2.7" fill="#f8f6d8" stroke="#9a964c" stroke-width="1.15"/><circle cx="166.5" cy="-6.2" r="2.7" fill="#f8f6d8" stroke="#9a964c" stroke-width="1.15"/><circle cx="189.6" cy="7.5" r="2.7" fill="#f8f6d8" stroke="#9a964c" stroke-width="1.15"/><circle cx="168.7" cy="44.3" r="2.7" fill="#f8f6d8" stroke="#9a964c" stroke-width="1.15"/><circle cx="179.7" cy="44.3" r="2.7" fill="#f8f6d8" stroke="#9a964c" stroke-width="1.15"/><circle cx="187.5" cy="30.6" r="2.7" fill="#f8f6d8" stroke="#9a964c" stroke-width="1.15"/><circle cx="181.9" cy="21.2" r="2.7" fill="#f8f6d8" stroke="#9a964c" stroke-width="1.15"/><circle cx="189.6" cy="81.1" r="2.7" fill="#f8f6d8" stroke="#9a964c" stroke-width="1.15"/><circle cx="90.4" cy="56.6" r="2.6" fill="url(#gCr)"/><circle cx="111.4" cy="93.4" r="2.6" fill="url(#gCr)"/><circle cx="111.4" cy="19.8" r="2.6" fill="url(#gCr)"/><circle cx="90.4" cy="32.0" r="2.6" fill="url(#gCr)"/><circle cx="132.3" cy="56.6" r="2.6" fill="url(#gCr)"/><circle cx="111.4" cy="68.8" r="2.6" fill="url(#gCr)"/><circle cx="153.2" cy="93.4" r="2.6" fill="url(#gCr)"/><circle cx="111.4" cy="-4.8" r="2.6" fill="url(#gCr)"/><circle cx="153.2" cy="19.8" r="2.6" fill="url(#gCr)"/><circle cx="132.3" cy="32.0" r="2.6" fill="url(#gCr)"/><circle cx="174.2" cy="56.6" r="2.6" fill="url(#gCr)"/><circle cx="153.2" cy="68.8" r="2.6" fill="url(#gCr)"/><circle cx="153.2" cy="-4.8" r="2.6" fill="url(#gCr)"/><circle cx="174.2" cy="32.0" r="2.6" fill="url(#gCr)"/><circle cx="90.4" cy="81.1" r="2.3" fill="#dcd4f0" stroke="#7c6cb4" stroke-width="1.3"/><circle cx="90.4" cy="7.5" r="2.3" fill="#dcd4f0" stroke="#7c6cb4" stroke-width="1.3"/><circle cx="111.4" cy="44.3" r="2.3" fill="#dcd4f0" stroke="#7c6cb4" stroke-width="1.3"/><circle cx="132.3" cy="81.1" r="2.3" fill="#dcd4f0" stroke="#7c6cb4" stroke-width="1.3"/><circle cx="132.3" cy="7.5" r="2.3" fill="#dcd4f0" stroke="#7c6cb4" stroke-width="1.3"/><circle cx="153.2" cy="44.3" r="2.3" fill="#dcd4f0" stroke="#7c6cb4" stroke-width="1.3"/><circle cx="174.2" cy="81.1" r="2.3" fill="#dcd4f0" stroke="#7c6cb4" stroke-width="1.3"/><circle cx="174.2" cy="7.5" r="2.3" fill="#dcd4f0" stroke="#7c6cb4" stroke-width="1.3"/><circle cx="132.3" cy="32.0" r="2.8" fill="url(#gRed)"/><circle cx="111.4" cy="44.3" r="2.8" fill="url(#gRed)"/><path d="M126.7 40.3 L130.7 44.3 L126.7 48.3 L122.7 44.3Z" fill="url(#gRed)"/></g><g clip-path="url(#clipSide)"><line x1="84.8" y1="95" x2="84.8" y2="134" stroke="#b8b8c8" stroke-width="0.8"/><line x1="35.0" y1="105" x2="48.5" y2="100.8" stroke="#9a98a8" stroke-width="1"/><line x1="54.2" y1="101.4" x2="60.6" y2="105" stroke="#9a98a8" stroke-width="1"/><line x1="35.0" y1="122" x2="43.0" y2="126.2" stroke="#9a98a8" stroke-width="1"/><line x1="43.0" y1="126.2" x2="60.6" y2="122" stroke="#9a98a8" stroke-width="1"/><line x1="35.0" y1="105" x2="35.0" y2="122" stroke="#8080a8" stroke-width="1"/><line x1="34.5" y1="113.9" x2="48.5" y2="100.8" stroke="#1c1c78" stroke-width="1.6"/><line x1="34.5" y1="113.9" x2="28.6" y2="101.4" stroke="#1c1c78" stroke-width="1.6"/><line x1="34.5" y1="113.9" x2="43.0" y2="126.2" stroke="#1c1c78" stroke-width="1.6"/><line x1="34.5" y1="113.9" x2="17.4" y2="126.2" stroke="#1c1c78" stroke-width="1.6"/><line x1="60.6" y1="105" x2="74.1" y2="100.8" stroke="#9a98a8" stroke-width="1"/><line x1="79.8" y1="101.4" x2="86.2" y2="105" stroke="#9a98a8" stroke-width="1"/><line x1="60.6" y1="122" x2="68.6" y2="126.2" stroke="#9a98a8" stroke-width="1"/><line x1="68.6" y1="126.2" x2="86.2" y2="122" stroke="#9a98a8" stroke-width="1"/><line x1="60.6" y1="105" x2="60.6" y2="122" stroke="#8080a8" stroke-width="1"/><line x1="60.1" y1="113.9" x2="74.1" y2="100.8" stroke="#1c1c78" stroke-width="1.6"/><line x1="60.1" y1="113.9" x2="54.199999999999996" y2="101.4" stroke="#1c1c78" stroke-width="1.6"/><line x1="60.1" y1="113.9" x2="68.6" y2="126.2" stroke="#1c1c78" stroke-width="1.6"/><line x1="60.1" y1="113.9" x2="42.99999999999999" y2="126.2" stroke="#1c1c78" stroke-width="1.6"/><line x1="86.2" y1="105" x2="99.7" y2="100.8" stroke="#9a98a8" stroke-width="1"/><line x1="105.4" y1="101.4" x2="111.80000000000001" y2="105" stroke="#9a98a8" stroke-width="1"/><line x1="86.2" y1="122" x2="94.2" y2="126.2" stroke="#9a98a8" stroke-width="1"/><line x1="94.2" y1="126.2" x2="111.80000000000001" y2="122" stroke="#9a98a8" stroke-width="1"/><line x1="86.2" y1="105" x2="86.2" y2="122" stroke="#8080a8" stroke-width="1"/><line x1="85.7" y1="113.9" x2="99.7" y2="100.8" stroke="#1c1c78" stroke-width="1.6"/><line x1="85.7" y1="113.9" x2="79.80000000000001" y2="101.4" stroke="#1c1c78" stroke-width="1.6"/><line x1="85.7" y1="113.9" x2="94.2" y2="126.2" stroke="#1c1c78" stroke-width="1.6"/><line x1="85.7" y1="113.9" x2="68.6" y2="126.2" stroke="#1c1c78" stroke-width="1.6"/><line x1="111.80000000000001" y1="105" x2="125.30000000000001" y2="100.8" stroke="#9a98a8" stroke-width="1"/><line x1="131.0" y1="101.4" x2="137.4" y2="105" stroke="#9a98a8" stroke-width="1"/><line x1="111.80000000000001" y1="122" x2="119.80000000000001" y2="126.2" stroke="#9a98a8" stroke-width="1"/><line x1="119.80000000000001" y1="126.2" x2="137.4" y2="122" stroke="#9a98a8" stroke-width="1"/><line x1="111.80000000000001" y1="105" x2="111.80000000000001" y2="122" stroke="#8080a8" stroke-width="1"/><line x1="111.30000000000001" y1="113.9" x2="125.30000000000001" y2="100.8" stroke="#1c1c78" stroke-width="1.6"/><line x1="111.30000000000001" y1="113.9" x2="105.4" y2="101.4" stroke="#1c1c78" stroke-width="1.6"/><line x1="111.30000000000001" y1="113.9" x2="119.80000000000001" y2="126.2" stroke="#1c1c78" stroke-width="1.6"/><line x1="111.30000000000001" y1="113.9" x2="94.20000000000002" y2="126.2" stroke="#1c1c78" stroke-width="1.6"/><line x1="137.4" y1="105" x2="150.9" y2="100.8" stroke="#9a98a8" stroke-width="1"/><line x1="156.6" y1="101.4" x2="163.0" y2="105" stroke="#9a98a8" stroke-width="1"/><line x1="137.4" y1="122" x2="145.4" y2="126.2" stroke="#9a98a8" stroke-width="1"/><line x1="145.4" y1="126.2" x2="163.0" y2="122" stroke="#9a98a8" stroke-width="1"/><line x1="137.4" y1="105" x2="137.4" y2="122" stroke="#8080a8" stroke-width="1"/><line x1="136.9" y1="113.9" x2="150.9" y2="100.8" stroke="#1c1c78" stroke-width="1.6"/><line x1="136.9" y1="113.9" x2="131.0" y2="101.4" stroke="#1c1c78" stroke-width="1.6"/><line x1="136.9" y1="113.9" x2="145.4" y2="126.2" stroke="#1c1c78" stroke-width="1.6"/><line x1="136.9" y1="113.9" x2="119.80000000000001" y2="126.2" stroke="#1c1c78" stroke-width="1.6"/><line x1="163.0" y1="105" x2="176.5" y2="100.8" stroke="#9a98a8" stroke-width="1"/><line x1="182.2" y1="101.4" x2="188.6" y2="105" stroke="#9a98a8" stroke-width="1"/><line x1="163.0" y1="122" x2="171.0" y2="126.2" stroke="#9a98a8" stroke-width="1"/><line x1="171.0" y1="126.2" x2="188.6" y2="122" stroke="#9a98a8" stroke-width="1"/><line x1="163.0" y1="105" x2="163.0" y2="122" stroke="#8080a8" stroke-width="1"/><line x1="162.5" y1="113.9" x2="176.5" y2="100.8" stroke="#1c1c78" stroke-width="1.6"/><line x1="162.5" y1="113.9" x2="156.6" y2="101.4" stroke="#1c1c78" stroke-width="1.6"/><line x1="162.5" y1="113.9" x2="171.0" y2="126.2" stroke="#1c1c78" stroke-width="1.6"/><line x1="162.5" y1="113.9" x2="145.4" y2="126.2" stroke="#1c1c78" stroke-width="1.6"/><line x1="188.60000000000002" y1="105" x2="202.10000000000002" y2="100.8" stroke="#9a98a8" stroke-width="1"/><line x1="207.8" y1="101.4" x2="214.20000000000002" y2="105" stroke="#9a98a8" stroke-width="1"/><line x1="188.60000000000002" y1="122" x2="196.60000000000002" y2="126.2" stroke="#9a98a8" stroke-width="1"/><line x1="196.60000000000002" y1="126.2" x2="214.20000000000002" y2="122" stroke="#9a98a8" stroke-width="1"/><line x1="188.60000000000002" y1="105" x2="188.60000000000002" y2="122" stroke="#8080a8" stroke-width="1"/><line x1="188.10000000000002" y1="113.9" x2="202.10000000000002" y2="100.8" stroke="#1c1c78" stroke-width="1.6"/><line x1="188.10000000000002" y1="113.9" x2="182.20000000000002" y2="101.4" stroke="#1c1c78" stroke-width="1.6"/><line x1="188.10000000000002" y1="113.9" x2="196.60000000000002" y2="126.2" stroke="#1c1c78" stroke-width="1.6"/><line x1="188.10000000000002" y1="113.9" x2="171.00000000000003" y2="126.2" stroke="#1c1c78" stroke-width="1.6"/><line x1="214.2" y1="105" x2="227.7" y2="100.8" stroke="#9a98a8" stroke-width="1"/><line x1="233.39999999999998" y1="101.4" x2="239.79999999999998" y2="105" stroke="#9a98a8" stroke-width="1"/><line x1="214.2" y1="122" x2="222.2" y2="126.2" stroke="#9a98a8" stroke-width="1"/><line x1="222.2" y1="126.2" x2="239.79999999999998" y2="122" stroke="#9a98a8" stroke-width="1"/><line x1="214.2" y1="105" x2="214.2" y2="122" stroke="#8080a8" stroke-width="1"/><line x1="213.7" y1="113.9" x2="227.7" y2="100.8" stroke="#1c1c78" stroke-width="1.6"/><line x1="213.7" y1="113.9" x2="207.79999999999998" y2="101.4" stroke="#1c1c78" stroke-width="1.6"/><line x1="213.7" y1="113.9" x2="222.2" y2="126.2" stroke="#1c1c78" stroke-width="1.6"/><line x1="213.7" y1="113.9" x2="196.6" y2="126.2" stroke="#1c1c78" stroke-width="1.6"/><circle cx="35.0" cy="104.6" r="2.6" fill="#eceaf8" stroke="#8a82c4" stroke-width="1.3"/><circle cx="35.0" cy="122.4" r="2.6" fill="#eceaf8" stroke="#8a82c4" stroke-width="1.3"/><circle cx="34.5" cy="113.9" r="3.3" fill="url(#gCr)"/><circle cx="48.5" cy="100.8" r="3.9" fill="url(#gTe)"/><circle cx="54.2" cy="101.4" r="3.9" fill="url(#gTe)"/><circle cx="41.8" cy="126" r="3.9" fill="url(#gTe)"/><circle cx="44.4" cy="126.6" r="3.9" fill="url(#gTe)"/><circle cx="60.6" cy="104.6" r="2.6" fill="#eceaf8" stroke="#8a82c4" stroke-width="1.3"/><circle cx="60.6" cy="122.4" r="2.6" fill="#eceaf8" stroke="#8a82c4" stroke-width="1.3"/><circle cx="60.1" cy="113.9" r="3.3" fill="url(#gCr)"/><circle cx="74.1" cy="100.8" r="3.9" fill="url(#gTe)"/><circle cx="79.8" cy="101.4" r="3.9" fill="url(#gTe)"/><circle cx="67.4" cy="126" r="3.9" fill="url(#gTe)"/><circle cx="70.0" cy="126.6" r="3.9" fill="url(#gTe)"/><circle cx="86.2" cy="104.6" r="2.6" fill="#eceaf8" stroke="#8a82c4" stroke-width="1.3"/><circle cx="86.2" cy="122.4" r="2.6" fill="#eceaf8" stroke="#8a82c4" stroke-width="1.3"/><circle cx="85.7" cy="113.9" r="3.3" fill="url(#gCr)"/><circle cx="99.7" cy="100.8" r="3.9" fill="url(#gTe)"/><circle cx="105.4" cy="101.4" r="3.9" fill="url(#gTe)"/><circle cx="93.0" cy="126" r="3.9" fill="url(#gTe)"/><circle cx="95.60000000000001" cy="126.6" r="3.9" fill="url(#gTe)"/><circle cx="111.80000000000001" cy="104.6" r="2.6" fill="#eceaf8" stroke="#8a82c4" stroke-width="1.3"/><circle cx="111.80000000000001" cy="122.4" r="2.6" fill="#eceaf8" stroke="#8a82c4" stroke-width="1.3"/><circle cx="111.30000000000001" cy="113.9" r="3.3" fill="url(#gCr)"/><circle cx="125.30000000000001" cy="100.8" r="3.9" fill="url(#gTe)"/><circle cx="131.0" cy="101.4" r="3.9" fill="url(#gTe)"/><circle cx="118.60000000000001" cy="126" r="3.9" fill="url(#gTe)"/><circle cx="121.20000000000002" cy="126.6" r="3.9" fill="url(#gTe)"/><circle cx="137.4" cy="104.6" r="2.6" fill="#eceaf8" stroke="#8a82c4" stroke-width="1.3"/><circle cx="137.4" cy="122.4" r="2.6" fill="#eceaf8" stroke="#8a82c4" stroke-width="1.3"/><circle cx="136.9" cy="113.9" r="3.3" fill="url(#gCr)"/><circle cx="150.9" cy="100.8" r="3.9" fill="url(#gTe)"/><circle cx="156.6" cy="101.4" r="3.9" fill="url(#gTe)"/><circle cx="144.20000000000002" cy="126" r="3.9" fill="url(#gTe)"/><circle cx="146.8" cy="126.6" r="3.9" fill="url(#gTe)"/><circle cx="163.0" cy="104.6" r="2.6" fill="#eceaf8" stroke="#8a82c4" stroke-width="1.3"/><circle cx="163.0" cy="122.4" r="2.6" fill="#eceaf8" stroke="#8a82c4" stroke-width="1.3"/><circle cx="162.5" cy="113.9" r="3.3" fill="url(#gCr)"/><circle cx="176.5" cy="100.8" r="3.9" fill="url(#gTe)"/><circle cx="182.2" cy="101.4" r="3.9" fill="url(#gTe)"/><circle cx="169.8" cy="126" r="3.9" fill="url(#gTe)"/><circle cx="172.4" cy="126.6" r="3.9" fill="url(#gTe)"/><circle cx="188.60000000000002" cy="104.6" r="2.6" fill="#eceaf8" stroke="#8a82c4" stroke-width="1.3"/><circle cx="188.60000000000002" cy="122.4" r="2.6" fill="#eceaf8" stroke="#8a82c4" stroke-width="1.3"/><circle cx="188.10000000000002" cy="113.9" r="3.3" fill="url(#gCr)"/><circle cx="202.10000000000002" cy="100.8" r="3.9" fill="url(#gTe)"/><circle cx="207.8" cy="101.4" r="3.9" fill="url(#gTe)"/><circle cx="195.40000000000003" cy="126" r="3.9" fill="url(#gTe)"/><circle cx="198.00000000000003" cy="126.6" r="3.9" fill="url(#gTe)"/><circle cx="214.2" cy="104.6" r="2.6" fill="#eceaf8" stroke="#8a82c4" stroke-width="1.3"/><circle cx="214.2" cy="122.4" r="2.6" fill="#eceaf8" stroke="#8a82c4" stroke-width="1.3"/><circle cx="213.7" cy="113.9" r="3.3" fill="url(#gCr)"/><circle cx="227.7" cy="100.8" r="3.9" fill="url(#gTe)"/><circle cx="233.39999999999998" cy="101.4" r="3.9" fill="url(#gTe)"/><circle cx="221.0" cy="126" r="3.9" fill="url(#gTe)"/><circle cx="223.6" cy="126.6" r="3.9" fill="url(#gTe)"/></g><text x="235.5" y="8.2" font-size="9.5" font-family="Liberation Sans, Arial, sans-serif" fill="#222">(b)</text><rect x="264.25" y="91.45" width="4.1" height="29.75" fill="url(#gPink)" stroke="#a03c70" stroke-width="0.5" stroke-opacity="0.8"/><rect x="268.85" y="93.35" width="4.1" height="27.85" fill="url(#gBlue)" stroke="#2c2c6c" stroke-width="0.5" stroke-opacity="0.8"/><rect x="273.45" y="102.65" width="4.1" height="18.55" fill="url(#gGreen)" stroke="#1c5a30" stroke-width="0.5" stroke-opacity="0.8"/><rect x="281.75" y="94.85" width="4.1" height="26.35" fill="url(#gPink)" stroke="#a03c70" stroke-width="0.5" stroke-opacity="0.8"/><rect x="286.35" y="89.35" width="4.1" height="31.85" fill="url(#gBlue)" stroke="#2c2c6c" stroke-width="0.5" stroke-opacity="0.8"/><rect x="290.95" y="92.85" width="4.1" height="28.35" fill="url(#gGreen)" stroke="#1c5a30" stroke-width="0.5" stroke-opacity="0.8"/><rect x="299.25" y="74.55" width="4.1" height="46.65" fill="url(#gPink)" stroke="#a03c70" stroke-width="0.5" stroke-opacity="0.8"/><rect x="303.85" y="79.55" width="4.1" height="41.65" fill="url(#gBlue)" stroke="#2c2c6c" stroke-width="0.5" stroke-opacity="0.8"/><rect x="308.45" y="86.15" width="4.1" height="35.05" fill="url(#gGreen)" stroke="#1c5a30" stroke-width="0.5" stroke-opacity="0.8"/><rect x="316.75" y="101.35" width="4.1" height="19.85" fill="url(#gPink)" stroke="#a03c70" stroke-width="0.5" stroke-opacity="0.8"/><rect x="321.35" y="102.75" width="4.1" height="18.45" fill="url(#gBlue)" stroke="#2c2c6c" stroke-width="0.5" stroke-opacity="0.8"/><rect x="325.95" y="102.75" width="4.1" height="18.45" fill="url(#gGreen)" stroke="#1c5a30" stroke-width="0.5" stroke-opacity="0.8"/><rect x="334.25" y="43.85" width="4.1" height="77.35" fill="url(#gPink)" stroke="#a03c70" stroke-width="0.5" stroke-opacity="0.8"/><rect x="338.85" y="56.15" width="4.1" height="65.05" fill="url(#gBlue)" stroke="#2c2c6c" stroke-width="0.5" stroke-opacity="0.8"/><rect x="343.45" y="93.25" width="4.1" height="27.95" fill="url(#gGreen)" stroke="#1c5a30" stroke-width="0.5" stroke-opacity="0.8"/><rect x="351.75" y="38.95" width="4.1" height="82.25" fill="url(#gPink)" stroke="#a03c70" stroke-width="0.5" stroke-opacity="0.8"/><rect x="356.35" y="67.95" width="4.1" height="53.25" fill="url(#gBlue)" stroke="#2c2c6c" stroke-width="0.5" stroke-opacity="0.8"/><rect x="360.95" y="59.25" width="4.1" height="61.95" fill="url(#gGreen)" stroke="#1c5a30" stroke-width="0.5" stroke-opacity="0.8"/><rect x="369.25" y="20.65" width="4.1" height="100.55" fill="url(#gPink)" stroke="#a03c70" stroke-width="0.5" stroke-opacity="0.8"/><rect x="373.85" y="102.05" width="4.1" height="19.15" fill="url(#gBlue)" stroke="#2c2c6c" stroke-width="0.5" stroke-opacity="0.8"/><rect x="378.45" y="99.15" width="4.1" height="22.05" fill="url(#gGreen)" stroke="#1c5a30" stroke-width="0.5" stroke-opacity="0.8"/><rect x="386.75" y="84.85" width="4.1" height="36.35" fill="url(#gPink)" stroke="#a03c70" stroke-width="0.5" stroke-opacity="0.8"/><rect x="391.35" y="114.75" width="4.1" height="6.45" fill="url(#gBlue)" stroke="#2c2c6c" stroke-width="0.5" stroke-opacity="0.8"/><rect x="395.95" y="92.05" width="4.1" height="29.15" fill="url(#gGreen)" stroke="#1c5a30" stroke-width="0.5" stroke-opacity="0.8"/><rect x="404.25" y="82.25" width="4.1" height="38.95" fill="url(#gPink)" stroke="#a03c70" stroke-width="0.5" stroke-opacity="0.8"/><rect x="408.85" y="75.25" width="4.1" height="45.95" fill="url(#gBlue)" stroke="#2c2c6c" stroke-width="0.5" stroke-opacity="0.8"/><rect x="413.45" y="82.25" width="4.1" height="38.95" fill="url(#gGreen)" stroke="#1c5a30" stroke-width="0.5" stroke-opacity="0.8"/><path d="M261.6 4.9 H420.3 V121.2" fill="none" stroke="#555" stroke-width="1.2"/><path d="M261.6 4.9 V121.2 H420.3" fill="none" stroke="#222" stroke-width="1.3"/><line x1="258.6" y1="121.2" x2="261.6" y2="121.2" stroke="#333" stroke-width="1"/><text x="257.6" y="123.6" font-size="6.8" font-weight="bold" text-anchor="end" font-family="Liberation Sans, Arial, sans-serif" fill="#222">0.0</text><line x1="258.6" y1="100.1" x2="261.6" y2="100.1" stroke="#333" stroke-width="1"/><text x="257.6" y="102.5" font-size="6.8" font-weight="bold" text-anchor="end" font-family="Liberation Sans, Arial, sans-serif" fill="#222">-0.1</text><line x1="258.6" y1="79.0" x2="261.6" y2="79.0" stroke="#333" stroke-width="1"/><text x="257.6" y="81.4" font-size="6.8" font-weight="bold" text-anchor="end" font-family="Liberation Sans, Arial, sans-serif" fill="#222">-0.2</text><line x1="258.6" y1="57.9" x2="261.6" y2="57.9" stroke="#333" stroke-width="1"/><text x="257.6" y="60.3" font-size="6.8" font-weight="bold" text-anchor="end" font-family="Liberation Sans, Arial, sans-serif" fill="#222">-0.3</text><line x1="258.6" y1="36.8" x2="261.6" y2="36.8" stroke="#333" stroke-width="1"/><text x="257.6" y="39.2" font-size="6.8" font-weight="bold" text-anchor="end" font-family="Liberation Sans, Arial, sans-serif" fill="#222">-0.4</text><line x1="258.6" y1="15.7" x2="261.6" y2="15.7" stroke="#333" stroke-width="1"/><text x="257.6" y="18.1" font-size="6.8" font-weight="bold" text-anchor="end" font-family="Liberation Sans, Arial, sans-serif" fill="#222">-0.5</text><line x1="259.8" y1="110.7" x2="261.6" y2="110.7" stroke="#333" stroke-width="0.8"/><line x1="259.8" y1="89.6" x2="261.6" y2="89.6" stroke="#333" stroke-width="0.8"/><line x1="259.8" y1="68.5" x2="261.6" y2="68.5" stroke="#333" stroke-width="0.8"/><line x1="259.8" y1="47.4" x2="261.6" y2="47.4" stroke="#333" stroke-width="0.8"/><line x1="259.8" y1="26.2" x2="261.6" y2="26.2" stroke="#333" stroke-width="0.8"/><text transform="translate(243.2,66.9) rotate(-90)" font-size="6.3" font-weight="bold" text-anchor="middle" textLength="63" lengthAdjust="spacingAndGlyphs" font-family="Liberation Sans, Arial, sans-serif" fill="#222">Absorption Energy (eV)</text><text x="270.9" y="129.6" font-size="6.5" font-weight="bold" text-anchor="middle" font-family="Liberation Sans, Arial, sans-serif" fill="#e0408c">CO</text><text x="288.4" y="129.6" font-size="6.5" font-weight="bold" text-anchor="middle" font-family="Liberation Sans, Arial, sans-serif" fill="#e0408c">CO<tspan font-size="3.9" dy="1.5">2</tspan></text><text x="305.9" y="129.6" font-size="6.5" font-weight="bold" text-anchor="middle" font-family="Liberation Sans, Arial, sans-serif" fill="#e0408c">H<tspan font-size="3.9" dy="1.5">2</tspan><tspan dy="-1.5">O</tspan></text><text x="323.4" y="129.6" font-size="6.5" font-weight="bold" text-anchor="middle" font-family="Liberation Sans, Arial, sans-serif" fill="#e0408c">N<tspan font-size="3.9" dy="1.5">2</tspan></text><text x="340.9" y="129.6" font-size="6.5" font-weight="bold" text-anchor="middle" font-family="Liberation Sans, Arial, sans-serif" fill="#e0408c">NH<tspan font-size="3.9" dy="1.5">3</tspan></text><text x="358.4" y="129.6" font-size="6.5" font-weight="bold" text-anchor="middle" font-family="Liberation Sans, Arial, sans-serif" fill="#e0408c">NO</text><text x="375.9" y="129.6" font-size="6.5" font-weight="bold" text-anchor="middle" font-family="Liberation Sans, Arial, sans-serif" fill="#e0408c">NO<tspan font-size="3.9" dy="1.5">2</tspan></text><text x="393.4" y="129.6" font-size="6.5" font-weight="bold" text-anchor="middle" font-family="Liberation Sans, Arial, sans-serif" fill="#e0408c">O<tspan font-size="3.9" dy="1.5">2</tspan></text><text x="410.9" y="129.6" font-size="6.5" font-weight="bold" text-anchor="middle" font-family="Liberation Sans, Arial, sans-serif" fill="#e0408c">SO<tspan font-size="3.9" dy="1.5">2</tspan></text><rect x="276" y="16.1" width="13.6" height="6.6" fill="url(#gPink)" stroke="#444" stroke-width="0.5"/><text x="291.5" y="22.1" font-size="7" font-weight="bold" font-family="Liberation Sans, Arial, sans-serif" fill="#e0408c">E<tspan font-size="4.6" dy="1.2">a-Ge</tspan></text><rect x="276" y="26.6" width="13.6" height="6.6" fill="url(#gBlue)" stroke="#444" stroke-width="0.5"/><text x="291.5" y="32.6" font-size="7" font-weight="bold" font-family="Liberation Sans, Arial, sans-serif" fill="#303088">E<tspan font-size="4.6" dy="1.2">a-Te</tspan></text><rect x="276" y="37.1" width="13.6" height="6.6" fill="url(#gGreen)" stroke="#444" stroke-width="0.5"/><text x="291.5" y="43.1" font-size="7" font-weight="bold" font-family="Liberation Sans, Arial, sans-serif" fill="#2a8a48">E<tspan font-size="4.6" dy="1.2">a-Cr</tspan></text><text x="-0.2" y="147.6" font-size="9.5" font-family="Liberation Sans, Arial, sans-serif" fill="#222">(c)</text><rect x="28.30" y="227.8" width="10.9" height="33.5" fill="url(#gOlive)" stroke="#8c8a58" stroke-width="0.7"/><rect x="46.54" y="226.3" width="10.9" height="35.0" fill="url(#gOlive)" stroke="#8c8a58" stroke-width="0.7"/><rect x="64.78" y="224.70000000000002" width="10.9" height="36.6" fill="url(#gOlive)" stroke="#8c8a58" stroke-width="0.7"/><rect x="83.02" y="227.60000000000002" width="10.9" height="33.7" fill="url(#gOlive)" stroke="#8c8a58" stroke-width="0.7"/><rect x="101.26" y="208.60000000000002" width="10.9" height="52.7" fill="url(#gOlive)" stroke="#8c8a58" stroke-width="0.7"/><rect x="119.50" y="156.4" width="10.9" height="104.9" fill="url(#gOlive)" stroke="#8c8a58" stroke-width="0.7"/><rect x="137.74" y="170.10000000000002" width="10.9" height="91.2" fill="url(#gOlive)" stroke="#8c8a58" stroke-width="0.7"/><rect x="155.98" y="241.3" width="10.9" height="20.0" fill="url(#gOlive)" stroke="#8c8a58" stroke-width="0.7"/><rect x="174.22" y="226.8" width="10.9" height="34.5" fill="url(#gOlive)" stroke="#8c8a58" stroke-width="0.7"/><path d="M24.2 146.8 H188.8 V261.3" fill="none" stroke="#505050" stroke-width="1.4"/><path d="M24.2 146.8 V261.3 H188.8" fill="none" stroke="#222" stroke-width="1.4"/><line x1="21.7" y1="261.3" x2="24.2" y2="261.3" stroke="#333" stroke-width="1"/><text x="20.599999999999998" y="263.1" font-size="5.5" font-weight="bold" text-anchor="end" font-family="Liberation Sans, Arial, sans-serif" fill="#222">0</text><line x1="21.7" y1="204.1" x2="24.2" y2="204.1" stroke="#333" stroke-width="1"/><text x="20.599999999999998" y="205.9" font-size="5.5" font-weight="bold" text-anchor="end" font-family="Liberation Sans, Arial, sans-serif" fill="#222">20</text><line x1="21.7" y1="146.8" x2="24.2" y2="146.8" stroke="#333" stroke-width="1"/><text x="20.599999999999998" y="148.6" font-size="5.5" font-weight="bold" text-anchor="end" font-family="Liberation Sans, Arial, sans-serif" fill="#222">40</text><line x1="22.7" y1="232.7" x2="24.2" y2="232.7" stroke="#333" stroke-width="0.8"/><line x1="22.7" y1="175.4" x2="24.2" y2="175.4" stroke="#333" stroke-width="0.8"/><text transform="translate(11.1,206.6) rotate(-90)" font-size="6.2" font-weight="bold" text-anchor="middle" textLength="62" lengthAdjust="spacingAndGlyphs" font-family="Liberation Sans, Arial, sans-serif" fill="#222">Enhanced T<tspan font-size="4.2" dy="1.2">c</tspan><tspan dy="-1.2"> Ratio (%)</tspan></text><text x="33.6" y="268.7" font-size="6.1" font-weight="bold" text-anchor="middle" font-family="Liberation Sans, Arial, sans-serif" fill="#7a7846">CO</text><text x="51.9" y="268.7" font-size="6.1" font-weight="bold" text-anchor="middle" font-family="Liberation Sans, Arial, sans-serif" fill="#7a7846">CO<tspan font-size="3.7" dy="1.5">2</tspan></text><text x="70.1" y="268.7" font-size="6.1" font-weight="bold" text-anchor="middle" font-family="Liberation Sans, Arial, sans-serif" fill="#7a7846">H<tspan font-size="3.7" dy="1.5">2</tspan><tspan dy="-1.5">O</tspan></text><text x="88.4" y="268.7" font-size="6.1" font-weight="bold" text-anchor="middle" font-family="Liberation Sans, Arial, sans-serif" fill="#7a7846">N<tspan font-size="3.7" dy="1.5">2</tspan></text><text x="106.6" y="268.7" font-size="6.1" font-weight="bold" text-anchor="middle" font-family="Liberation Sans, Arial, sans-serif" fill="#7a7846">NH<tspan font-size="3.7" dy="1.5">3</tspan></text><text x="124.8" y="268.7" font-size="6.1" font-weight="bold" text-anchor="middle" font-family="Liberation Sans, Arial, sans-serif" fill="#7a7846">NO</text><text x="143.1" y="268.7" font-size="6.1" font-weight="bold" text-anchor="middle" font-family="Liberation Sans, Arial, sans-serif" fill="#7a7846">NO<tspan font-size="3.7" dy="1.5">2</tspan></text><text x="161.3" y="268.7" font-size="6.1" font-weight="bold" text-anchor="middle" font-family="Liberation Sans, Arial, sans-serif" fill="#7a7846">O<tspan font-size="3.7" dy="1.5">2</tspan></text><text x="179.6" y="268.7" font-size="6.1" font-weight="bold" text-anchor="middle" font-family="Liberation Sans, Arial, sans-serif" fill="#7a7846">SO<tspan font-size="3.7" dy="1.5">2</tspan></text><text x="124.95" y="162.6" font-size="4.6" font-weight="bold" text-anchor="middle" textLength="9.5" lengthAdjust="spacingAndGlyphs" font-family="Liberation Sans, Arial, sans-serif" fill="#5e5e56">36%</text><text x="143.1" y="175.6" font-size="4.6" font-weight="bold" text-anchor="middle" textLength="9.5" lengthAdjust="spacingAndGlyphs" font-family="Liberation Sans, Arial, sans-serif" fill="#5e5e56">32%</text><text x="194" y="148.1" font-size="9.5" font-family="Liberation Sans, Arial, sans-serif" fill="#222">(d)</text><text x="232.3" y="165.1" font-size="10.6" font-weight="bold" font-family="Liberation Sans, Arial, sans-serif" fill="#3a6ea8" textLength="71.8" lengthAdjust="spacingAndGlyphs">Super-exchange</text><rect x="209.9" y="174.6" width="126.2" height="81.4" fill="#fbfdfe" stroke="#3f98c8" stroke-width="1.5"/><rect x="211.3" y="176" width="123.4" height="78.6" fill="none" stroke="#d8f6fc" stroke-width="1"/><rect x="224.10" y="178.2" width="2.4" height="2.4" rx="0.5" fill="#24466e"/><rect x="303.80" y="178.2" width="2.4" height="2.4" rx="0.5" fill="#24466e"/><rect x="228.48" y="178.2" width="2.4" height="2.4" rx="0.5" fill="#24466e"/><rect x="308.24" y="178.2" width="2.4" height="2.4" rx="0.5" fill="#24466e"/><rect x="232.86" y="178.2" width="2.4" height="2.4" rx="0.5" fill="#24466e"/><rect x="312.68" y="178.2" width="2.4" height="2.4" rx="0.5" fill="#24466e"/><rect x="237.24" y="178.2" width="2.4" height="2.4" rx="0.5" fill="#24466e"/><rect x="317.12" y="178.2" width="2.4" height="2.4" rx="0.5" fill="#24466e"/><rect x="241.62" y="178.2" width="2.4" height="2.4" rx="0.5" fill="#24466e"/><rect x="321.56" y="178.2" width="2.4" height="2.4" rx="0.5" fill="#24466e"/><rect x="246.00" y="178.2" width="2.4" height="2.4" rx="0.5" fill="#24466e"/><rect x="326.00" y="178.2" width="2.4" height="2.4" rx="0.5" fill="#24466e"/><rect x="224.10" y="186.9" width="2.4" height="2.4" rx="0.5" fill="#24466e"/><rect x="303.80" y="186.9" width="2.4" height="2.4" rx="0.5" fill="#24466e"/><rect x="228.48" y="186.9" width="2.4" height="2.4" rx="0.5" fill="#24466e"/><rect x="308.24" y="186.9" width="2.4" height="2.4" rx="0.5" fill="#24466e"/><rect x="232.86" y="186.9" width="2.4" height="2.4" rx="0.5" fill="#24466e"/><rect x="312.68" y="186.9" width="2.4" height="2.4" rx="0.5" fill="#24466e"/><rect x="237.24" y="186.9" width="2.4" height="2.4" rx="0.5" fill="#24466e"/><rect x="317.12" y="186.9" width="2.4" height="2.4" rx="0.5" fill="#24466e"/><rect x="241.62" y="186.9" width="2.4" height="2.4" rx="0.5" fill="#24466e"/><rect x="321.56" y="186.9" width="2.4" height="2.4" rx="0.5" fill="#24466e"/><rect x="246.00" y="186.9" width="2.4" height="2.4" rx="0.5" fill="#24466e"/><rect x="326.00" y="186.9" width="2.4" height="2.4" rx="0.5" fill="#24466e"/><text x="215.7" y="184" font-size="6.8" font-weight="bold" font-family="Liberation Sans, Arial, sans-serif" fill="#2a4670">e<tspan font-size="5.2" dy="2">g</tspan></text><text x="212.3" y="231.4" font-size="6.5" font-family="Liberation Sans, Arial, sans-serif" fill="#284670" font-weight="bold">t<tspan font-size="5.3" dy="2">2g</tspan></text><line x1="222.8" y1="220.6" x2="247.4" y2="220.6" stroke="#1e62b0" stroke-width="1.9"/><line x1="222.8" y1="229.0" x2="247.4" y2="229.0" stroke="#1e62b0" stroke-width="1.9"/><line x1="222.8" y1="237.1" x2="247.4" y2="237.1" stroke="#1e62b0" stroke-width="1.9"/><line x1="302.4" y1="220.6" x2="327.1" y2="220.6" stroke="#1e62b0" stroke-width="1.9"/><line x1="302.4" y1="229.0" x2="327.1" y2="229.0" stroke="#1e62b0" stroke-width="1.9"/><line x1="302.4" y1="237.1" x2="327.1" y2="237.1" stroke="#1e62b0" stroke-width="1.9"/><line x1="263.9" y1="204.1" x2="288.1" y2="204.1" stroke="#1e62b0" stroke-width="1.9"/><line x1="225.7" y1="233.9" x2="225.7" y2="242.3" stroke="#e0141e" stroke-width="1.9"/><path d="M223.29999999999998 234.6 L225.7 230.4 L228.1 234.6Z" fill="#e0141e"/><line x1="232.4" y1="225.5" x2="232.4" y2="234.6" stroke="#e0141e" stroke-width="1.9"/><path d="M230.0 226.2 L232.4 222.0 L234.8 226.2Z" fill="#e0141e"/><line x1="240.7" y1="216.8" x2="240.7" y2="226.2" stroke="#e0141e" stroke-width="1.9"/><path d="M238.29999999999998 217.5 L240.7 213.3 L243.1 217.5Z" fill="#e0141e"/><line x1="305.4" y1="233.9" x2="305.4" y2="242.3" stroke="#e0141e" stroke-width="1.9"/><path d="M303.0 234.6 L305.4 230.4 L307.79999999999995 234.6Z" fill="#e0141e"/><line x1="312.9" y1="225.5" x2="312.9" y2="234.6" stroke="#e0141e" stroke-width="1.9"/><path d="M310.5 226.2 L312.9 222.0 L315.29999999999995 226.2Z" fill="#e0141e"/><line x1="321" y1="216.8" x2="321" y2="226.2" stroke="#e0141e" stroke-width="1.9"/><path d="M318.6 217.5 L321 213.3 L323.4 217.5Z" fill="#e0141e"/><path d="M274.6 198 L276.8 198 L276.8 205.2 L278.4 205.2 L275.7 209.7 L273 205.2 L274.6 205.2 Z" fill="#fff5f5" stroke="#e83a40" stroke-width="0.9"/><path d="M238.3 210.3 C 240 201, 256 193, 265.2 199.6" fill="none" stroke="#1e9a48" stroke-width="2"/><path d="M268 202.2 L262.8 200.6 L266.4 197.2 Z" fill="#1e9a48"/><path d="M283.4 199.4 C 290 193, 306 194.5, 311 207.8" fill="none" stroke="#1e9a48" stroke-width="2"/><path d="M312.4 211.6 L308.8 207.2 L313.4 206.6 Z" fill="#1e9a48"/><text x="227" y="251" font-size="9" font-weight="bold" font-family="Liberation Sans, Arial, sans-serif" fill="#111">Cr<tspan font-size="6" dy="2.6">1</tspan></text><text x="271.8" y="250.6" font-size="9" font-weight="bold" font-family="Liberation Sans, Arial, sans-serif" fill="#111">Te</text><text x="307.2" y="251.5" font-size="9" font-weight="bold" font-family="Liberation Sans, Arial, sans-serif" fill="#111">Cr<tspan font-size="6" dy="2.6">2</tspan></text><text x="343.6" y="148.2" font-size="9.5" font-family="Liberation Sans, Arial, sans-serif" fill="#222">(e)</text><text x="362.6" y="159.2" font-size="6" font-weight="bold" font-family="Liberation Sans, Arial, sans-serif" fill="#111">NO</text><text x="439.3" y="158.2" font-size="5.6" font-weight="bold" font-family="Liberation Sans, Arial, sans-serif" fill="#111">NO<tspan font-size="3.8" dy="1.3">2</tspan></text><text x="399.2" y="202" font-size="6" font-weight="bold" text-anchor="middle" font-family="Liberation Sans, Arial, sans-serif" fill="#2e6aae">CGT</text><text x="480.8" y="202" font-size="6" font-weight="bold" text-anchor="middle" font-family="Liberation Sans, Arial, sans-serif" fill="#2e6aae">NO-CGT</text><line x1="369.7" y1="177.8" x2="356" y2="168.5" stroke="#1c1c70" stroke-width="1.3"/><line x1="369.7" y1="177.8" x2="376" y2="168.5" stroke="#1c1c70" stroke-width="1.3"/><line x1="369.7" y1="177.8" x2="362.6" y2="186.8" stroke="#1c1c70" stroke-width="1.3"/><line x1="369.7" y1="177.8" x2="384.9" y2="186.8" stroke="#1c1c70" stroke-width="1.3"/><line x1="392.5" y1="177.8" x2="399" y2="168.3" stroke="#1c1c70" stroke-width="1.3"/><line x1="392.5" y1="177.8" x2="384.9" y2="186.8" stroke="#1c1c70" stroke-width="1.3"/><line x1="392.5" y1="177.8" x2="408.2" y2="186.7" stroke="#1c1c70" stroke-width="1.3"/><line x1="415.4" y1="177.8" x2="421.6" y2="168.4" stroke="#1c1c70" stroke-width="1.3"/><line x1="415.4" y1="177.8" x2="408.2" y2="186.7" stroke="#1c1c70" stroke-width="1.3"/><line x1="415.4" y1="177.8" x2="428.8" y2="186.7" stroke="#1c1c70" stroke-width="1.3"/><circle cx="356" cy="168.5" r="2.95" fill="#eee27a" stroke="#9c9640" stroke-width="1.5"/><circle cx="376" cy="168.5" r="2.95" fill="#eee27a" stroke="#9c9640" stroke-width="1.5"/><circle cx="399" cy="168.3" r="2.95" fill="#eee27a" stroke="#9c9640" stroke-width="1.5"/><circle cx="421.6" cy="168.4" r="2.95" fill="#eee27a" stroke="#9c9640" stroke-width="1.5"/><circle cx="362.6" cy="186.8" r="2.95" fill="#eee27a" stroke="#9c9640" stroke-width="1.5"/><circle cx="384.9" cy="186.8" r="2.95" fill="#eee27a" stroke="#9c9640" stroke-width="1.5"/><circle cx="408.2" cy="186.7" r="2.95" fill="#eee27a" stroke="#9c9640" stroke-width="1.5"/><circle cx="428.8" cy="186.7" r="2.95" fill="#eee27a" stroke="#9c9640" stroke-width="1.5"/><circle cx="369.7" cy="177.8" r="2.8" fill="url(#gCr)"/><circle cx="392.5" cy="177.8" r="2.8" fill="url(#gCr)"/><circle cx="415.4" cy="177.8" r="2.8" fill="url(#gCr)"/><circle cx="378.8" cy="168.5" r="2.9" fill="#eee27a" stroke="#9c9640" stroke-width="1.4"/><circle cx="392.5" cy="183.4" r="2.3" fill="url(#gGe)"/><circle cx="392.5" cy="171" r="2.1" fill="url(#gGe)"/><g><path d="M383.5 155 C381.5 160, 383.5 166, 386.5 167.5" fill="none" stroke="#c4e8bc" stroke-width="2"/><ellipse cx="387.8" cy="149.6" rx="5.4" ry="5.2" fill="#eaf8e6" stroke="#92d494" stroke-width="1.3"/><ellipse cx="389" cy="151.6" rx="2.8" ry="2.4" fill="#e46a58"/><ellipse cx="400" cy="164.5" rx="7" ry="5" fill="#d4f0cc" stroke="#86cc88" stroke-width="1.2"/><ellipse cx="399" cy="155.7" rx="6" ry="5.6" fill="#e4f6de" stroke="#92d494" stroke-width="1.3"/><ellipse cx="397.6" cy="157.3" rx="3.8" ry="3.2" fill="#f09888"/><ellipse cx="397" cy="157.8" rx="1.8" ry="1.4" fill="#c84a40"/><ellipse cx="391.6" cy="162.4" rx="3" ry="2.4" fill="#f6bcc0"/><ellipse cx="401" cy="171.5" rx="7" ry="2.8" fill="#a8e0a4"/><circle cx="398.2" cy="167.8" r="2.6" fill="#f0e888" stroke="#b8a830" stroke-width="1"/><ellipse cx="404.8" cy="169.8" rx="3.8" ry="3" fill="#e45040"/></g><ellipse cx="369.3" cy="170.4" rx="2" ry="2.8" fill="#f6c0c8" stroke="#d08090" stroke-width="0.7"/><ellipse cx="379.6" cy="164.6" rx="2" ry="2.6" fill="#f6c0c8" stroke="#d08090" stroke-width="0.7"/><line x1="453.2" y1="178.6" x2="438.8" y2="168.7" stroke="#1c1c70" stroke-width="1.3"/><line x1="453.2" y1="178.6" x2="460.9" y2="168.9" stroke="#1c1c70" stroke-width="1.3"/><line x1="453.2" y1="178.6" x2="445.5" y2="187.5" stroke="#1c1c70" stroke-width="1.3"/><line x1="453.2" y1="178.6" x2="467.5" y2="187.5" stroke="#1c1c70" stroke-width="1.3"/><line x1="474.2" y1="178.8" x2="460.9" y2="168.9" stroke="#1c1c70" stroke-width="1.3"/><line x1="474.2" y1="178.8" x2="480.6" y2="168.9" stroke="#1c1c70" stroke-width="1.3"/><line x1="474.2" y1="178.8" x2="467.5" y2="187.5" stroke="#1c1c70" stroke-width="1.3"/><line x1="474.2" y1="178.8" x2="488.5" y2="187.5" stroke="#1c1c70" stroke-width="1.3"/><line x1="496.4" y1="178.8" x2="480.6" y2="168.9" stroke="#1c1c70" stroke-width="1.3"/><line x1="496.4" y1="178.8" x2="502" y2="168.7" stroke="#1c1c70" stroke-width="1.3"/><line x1="496.4" y1="178.8" x2="488.5" y2="187.5" stroke="#1c1c70" stroke-width="1.3"/><line x1="496.4" y1="178.8" x2="510.6" y2="187.5" stroke="#1c1c70" stroke-width="1.3"/><circle cx="438.8" cy="168.7" r="2.95" fill="#eee27a" stroke="#9c9640" stroke-width="1.5"/><circle cx="460.9" cy="168.9" r="2.95" fill="#eee27a" stroke="#9c9640" stroke-width="1.5"/><circle cx="480.6" cy="168.9" r="2.95" fill="#eee27a" stroke="#9c9640" stroke-width="1.5"/><circle cx="502" cy="168.7" r="2.95" fill="#eee27a" stroke="#9c9640" stroke-width="1.5"/><circle cx="430.5" cy="187.5" r="2.95" fill="#eee27a" stroke="#9c9640" stroke-width="1.5"/><circle cx="445.5" cy="187.5" r="2.95" fill="#eee27a" stroke="#9c9640" stroke-width="1.5"/><circle cx="467.5" cy="187.5" r="2.95" fill="#eee27a" stroke="#9c9640" stroke-width="1.5"/><circle cx="488.5" cy="187.5" r="2.95" fill="#eee27a" stroke="#9c9640" stroke-width="1.5"/><circle cx="510.6" cy="187.5" r="2.95" fill="#eee27a" stroke="#9c9640" stroke-width="1.5"/><circle cx="453.2" cy="178.6" r="2.8" fill="url(#gCrP)"/><circle cx="474.2" cy="178.8" r="2.8" fill="url(#gCrP)"/><circle cx="496.4" cy="178.8" r="2.8" fill="url(#gCrP)"/><circle cx="505.5" cy="168.7" r="2.9" fill="#eee27a" stroke="#9c9640" stroke-width="1.4"/><g><path d="M454 163 C 458 157, 468 158, 474 162 C 480 166, 488 163, 492 166 L 494 173 C 486 176, 470 176, 462 172 C 456 170, 452 168, 454 163 Z" fill="#b8e8b0" stroke="#70c878" stroke-width="1.2"/><path d="M460 165 C 466 162, 474 166, 480 168 C 486 170, 490 168, 492 169" fill="none" stroke="#58b860" stroke-width="1"/><rect x="462" y="153.6" width="28" height="6.4" rx="3.2" fill="#f2aaa6" stroke="#e07c7c" stroke-width="0.8"/><path d="M466 156 C 472 154, 480 158, 486 155" fill="none" stroke="#8ad08a" stroke-width="1.2"/><rect x="463.4" y="145.1" width="25.7" height="7.6" rx="3.6" fill="#f2a6a2" stroke="#e07676" stroke-width="0.8"/><path d="M467 148.5 C 472 147, 480 150, 486 148" fill="none" stroke="#f8c8c4" stroke-width="1"/><ellipse cx="450.9" cy="170" rx="5" ry="6.5" fill="#f2a4a0"/><ellipse cx="483" cy="170.5" rx="6" ry="5" fill="#d86a3a"/><circle cx="460.9" cy="168.9" r="2.8" fill="#f0ea98" stroke="#9a9436" stroke-width="1.2"/><circle cx="480.6" cy="168.9" r="2.8" fill="#f0ea98" stroke="#9a9436" stroke-width="1.2"/><ellipse cx="498" cy="163" rx="2" ry="3" fill="none" stroke="#90d090" stroke-width="1"/><ellipse cx="474.2" cy="175" rx="3" ry="2.5" fill="#f2a0a0"/></g><circle cx="474.2" cy="178.8" r="2.8" fill="url(#gCrP)"/><circle cx="474.2" cy="184" r="2" fill="url(#gGe)"/><rect x="355.8" y="206" width="82" height="48.6" fill="#ffffff"/><g clip-path="url(#clipE1)"><ellipse cx="367" cy="208.5" rx="12" ry="4.2" fill="url(#gGreenBlob)" /><ellipse cx="422" cy="208.5" rx="12" ry="4.2" fill="url(#gGreenBlob)" /><ellipse cx="386.3" cy="218.5" rx="3.8" ry="6.2" fill="url(#gGreenBlob)" /><ellipse cx="403.8" cy="218.5" rx="3.8" ry="6.2" fill="url(#gGreenBlob)" /><ellipse cx="395" cy="226.5" rx="6" ry="2" fill="#d8f0d0"/><ellipse cx="388" cy="249" rx="4" ry="3" fill="#9ad89c"/><ellipse cx="403" cy="249" rx="4" ry="3" fill="#9ad89c"/><line x1="395.5" y1="246" x2="395.5" y2="256" stroke="#a08040" stroke-width="1"/><ellipse cx="395.5" cy="241.5" rx="7.2" ry="7.5" fill="url(#gGreenBlob)" /><circle cx="394.8" cy="219.4" r="5.4" fill="url(#gGold)"/><ellipse cx="368.3" cy="232.3" rx="18" ry="20.8" fill="#c8806e"/><ellipse cx="377.3" cy="232.3" rx="8.3" ry="8.9" fill="#eaa28c"/><ellipse cx="377.3" cy="232.3" rx="4.9" ry="5.2" fill="#f2b8a2"/><ellipse cx="372.8" cy="241.3" rx="8.3" ry="8.9" fill="#eaa28c"/><ellipse cx="372.8" cy="241.3" rx="4.9" ry="5.2" fill="#f2b8a2"/><ellipse cx="363.8" cy="241.3" rx="8.3" ry="8.9" fill="#eaa28c"/><ellipse cx="363.8" cy="241.3" rx="4.9" ry="5.2" fill="#f2b8a2"/><ellipse cx="359.3" cy="232.3" rx="8.3" ry="8.9" fill="#eaa28c"/><ellipse cx="359.3" cy="232.3" rx="4.9" ry="5.2" fill="#f2b8a2"/><ellipse cx="363.8" cy="223.3" rx="8.3" ry="8.9" fill="#eaa28c"/><ellipse cx="363.8" cy="223.3" rx="4.9" ry="5.2" fill="#f2b8a2"/><ellipse cx="372.8" cy="223.3" rx="8.3" ry="8.9" fill="#eaa28c"/><ellipse cx="372.8" cy="223.3" rx="4.9" ry="5.2" fill="#f2b8a2"/><line x1="368.3" y1="232.3" x2="368.3" y2="212.5" stroke="#803438" stroke-width="1.6"/><line x1="368.3" y1="232.3" x2="383.1" y2="222.4" stroke="#803438" stroke-width="1.6"/><line x1="368.3" y1="232.3" x2="383.1" y2="242.2" stroke="#803438" stroke-width="1.6"/><line x1="368.3" y1="232.3" x2="368.3" y2="252.1" stroke="#803438" stroke-width="1.6"/><line x1="368.3" y1="232.3" x2="353.5" y2="242.2" stroke="#803438" stroke-width="1.6"/><line x1="368.3" y1="232.3" x2="353.5" y2="222.4" stroke="#803438" stroke-width="1.6"/><circle cx="368.3" cy="232.3" r="5.4" fill="url(#gMag)"/><ellipse cx="421.7" cy="231.8" rx="17.5" ry="20.8" fill="#c8806e"/><ellipse cx="430.4" cy="231.8" rx="8.1" ry="8.9" fill="#eaa28c"/><ellipse cx="430.4" cy="231.8" rx="4.7" ry="5.2" fill="#f2b8a2"/><ellipse cx="426.1" cy="240.8" rx="8.1" ry="8.9" fill="#eaa28c"/><ellipse cx="426.1" cy="240.8" rx="4.7" ry="5.2" fill="#f2b8a2"/><ellipse cx="417.3" cy="240.8" rx="8.1" ry="8.9" fill="#eaa28c"/><ellipse cx="417.3" cy="240.8" rx="4.7" ry="5.2" fill="#f2b8a2"/><ellipse cx="412.9" cy="231.8" rx="8.1" ry="8.9" fill="#eaa28c"/><ellipse cx="412.9" cy="231.8" rx="4.7" ry="5.2" fill="#f2b8a2"/><ellipse cx="417.3" cy="222.8" rx="8.1" ry="8.9" fill="#eaa28c"/><ellipse cx="417.3" cy="222.8" rx="4.7" ry="5.2" fill="#f2b8a2"/><ellipse cx="426.1" cy="222.8" rx="8.1" ry="8.9" fill="#eaa28c"/><ellipse cx="426.1" cy="222.8" rx="4.7" ry="5.2" fill="#f2b8a2"/><line x1="421.7" y1="231.8" x2="421.7" y2="212.0" stroke="#803438" stroke-width="1.6"/><line x1="421.7" y1="231.8" x2="436.1" y2="221.9" stroke="#803438" stroke-width="1.6"/><line x1="421.7" y1="231.8" x2="436.1" y2="241.7" stroke="#803438" stroke-width="1.6"/><line x1="421.7" y1="231.8" x2="421.7" y2="251.6" stroke="#803438" stroke-width="1.6"/><line x1="421.7" y1="231.8" x2="407.3" y2="241.7" stroke="#803438" stroke-width="1.6"/><line x1="421.7" y1="231.8" x2="407.3" y2="221.9" stroke="#803438" stroke-width="1.6"/><circle cx="421.7" cy="231.8" r="5.4" fill="url(#gMag)"/><ellipse cx="372" cy="251" rx="7" ry="3.2" fill="url(#gGreenBlob)" transform="rotate(-18 372 251)"/><ellipse cx="419" cy="251" rx="7" ry="3.2" fill="url(#gGreenBlob)" transform="rotate(18 419 251)"/></g><rect x="355.8" y="206" width="82" height="48.6" fill="none" stroke="#74c8d8" stroke-width="1.2"/><text x="397" y="213" font-size="5.5" font-weight="bold" text-anchor="middle" font-family="Liberation Sans, Arial, sans-serif" fill="#e82020">-0.10</text><text x="368.6" y="234.4" font-size="6.4" font-weight="bold" text-anchor="middle" font-family="Liberation Sans, Arial, sans-serif" fill="#ffffff">3.85</text><rect x="443" y="206" width="75" height="48.6" fill="#ffffff"/><g clip-path="url(#clipE2)"><ellipse cx="481.5" cy="224.5" rx="15.8" ry="16.5" fill="url(#gGreenLight)"/><ellipse cx="470.5" cy="244" rx="5" ry="7" fill="url(#gGreenBlob)" /><ellipse cx="492.5" cy="244" rx="5" ry="7" fill="url(#gGreenBlob)" /><ellipse cx="481.7" cy="244" rx="7.6" ry="8" fill="url(#gGreenBlob)" /><ellipse cx="456.2" cy="232.6" rx="16" ry="19.5" fill="#c8806e"/><ellipse cx="464.2" cy="232.6" rx="7.4" ry="8.4" fill="#eaa28c"/><ellipse cx="464.2" cy="232.6" rx="4.3" ry="4.9" fill="#f2b8a2"/><ellipse cx="460.2" cy="241.0" rx="7.4" ry="8.4" fill="#eaa28c"/><ellipse cx="460.2" cy="241.0" rx="4.3" ry="4.9" fill="#f2b8a2"/><ellipse cx="452.2" cy="241.0" rx="7.4" ry="8.4" fill="#eaa28c"/><ellipse cx="452.2" cy="241.0" rx="4.3" ry="4.9" fill="#f2b8a2"/><ellipse cx="448.2" cy="232.6" rx="7.4" ry="8.4" fill="#eaa28c"/><ellipse cx="448.2" cy="232.6" rx="4.3" ry="4.9" fill="#f2b8a2"/><ellipse cx="452.2" cy="224.2" rx="7.4" ry="8.4" fill="#eaa28c"/><ellipse cx="452.2" cy="224.2" rx="4.3" ry="4.9" fill="#f2b8a2"/><ellipse cx="460.2" cy="224.2" rx="7.4" ry="8.4" fill="#eaa28c"/><ellipse cx="460.2" cy="224.2" rx="4.3" ry="4.9" fill="#f2b8a2"/><line x1="456.2" y1="232.6" x2="456.2" y2="214.1" stroke="#803438" stroke-width="1.6"/><line x1="456.2" y1="232.6" x2="469.4" y2="223.3" stroke="#803438" stroke-width="1.6"/><line x1="456.2" y1="232.6" x2="469.4" y2="241.9" stroke="#803438" stroke-width="1.6"/><line x1="456.2" y1="232.6" x2="456.2" y2="251.1" stroke="#803438" stroke-width="1.6"/><line x1="456.2" y1="232.6" x2="443.0" y2="241.9" stroke="#803438" stroke-width="1.6"/><line x1="456.2" y1="232.6" x2="443.0" y2="223.3" stroke="#803438" stroke-width="1.6"/><circle cx="456.2" cy="232.6" r="5.4" fill="url(#gMag)"/><ellipse cx="507.5" cy="231.7" rx="16" ry="19.5" fill="#c8806e"/><ellipse cx="515.5" cy="231.7" rx="7.4" ry="8.4" fill="#eaa28c"/><ellipse cx="515.5" cy="231.7" rx="4.3" ry="4.9" fill="#f2b8a2"/><ellipse cx="511.5" cy="240.1" rx="7.4" ry="8.4" fill="#eaa28c"/><ellipse cx="511.5" cy="240.1" rx="4.3" ry="4.9" fill="#f2b8a2"/><ellipse cx="503.5" cy="240.1" rx="7.4" ry="8.4" fill="#eaa28c"/><ellipse cx="503.5" cy="240.1" rx="4.3" ry="4.9" fill="#f2b8a2"/><ellipse cx="499.5" cy="231.7" rx="7.4" ry="8.4" fill="#eaa28c"/><ellipse cx="499.5" cy="231.7" rx="4.3" ry="4.9" fill="#f2b8a2"/><ellipse cx="503.5" cy="223.3" rx="7.4" ry="8.4" fill="#eaa28c"/><ellipse cx="503.5" cy="223.3" rx="4.3" ry="4.9" fill="#f2b8a2"/><ellipse cx="511.5" cy="223.3" rx="7.4" ry="8.4" fill="#eaa28c"/><ellipse cx="511.5" cy="223.3" rx="4.3" ry="4.9" fill="#f2b8a2"/><line x1="507.5" y1="231.7" x2="507.5" y2="213.2" stroke="#803438" stroke-width="1.6"/><line x1="507.5" y1="231.7" x2="520.7" y2="222.4" stroke="#803438" stroke-width="1.6"/><line x1="507.5" y1="231.7" x2="520.7" y2="241.0" stroke="#803438" stroke-width="1.6"/><line x1="507.5" y1="231.7" x2="507.5" y2="250.2" stroke="#803438" stroke-width="1.6"/><line x1="507.5" y1="231.7" x2="494.3" y2="241.0" stroke="#803438" stroke-width="1.6"/><line x1="507.5" y1="231.7" x2="494.3" y2="222.4" stroke="#803438" stroke-width="1.6"/><circle cx="507.5" cy="231.7" r="5.4" fill="url(#gMag)"/><ellipse cx="455.5" cy="209.5" rx="12.5" ry="4.6" fill="url(#gGreenBlob)" /><ellipse cx="508" cy="209.5" rx="11" ry="4.6" fill="url(#gGreenBlob)" /><ellipse cx="457" cy="252" rx="11" ry="4" fill="url(#gGreenBlob)" /><ellipse cx="506" cy="252" rx="11" ry="4" fill="url(#gGreenBlob)" /><circle cx="480.8" cy="221.8" r="5.6" fill="url(#gGold)"/></g><rect x="443" y="206" width="75" height="48.6" fill="none" stroke="#74c8d8" stroke-width="1.2"/><text x="481" y="214" font-size="5.5" font-weight="bold" text-anchor="middle" font-family="Liberation Sans, Arial, sans-serif" fill="#e82020">-0.11</text><text x="464" y="224.6" font-size="6.2" font-weight="bold" text-anchor="middle" font-family="Liberation Sans, Arial, sans-serif" fill="#ffffff" opacity="0.85">3.14</text></svg></body></html>
